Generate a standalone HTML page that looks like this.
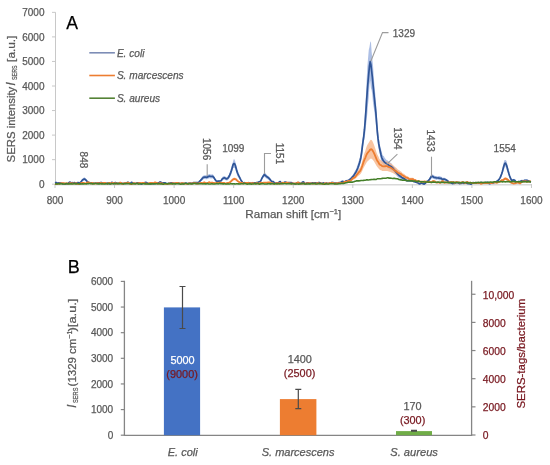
<!DOCTYPE html>
<html><head><meta charset="utf-8"><title>SERS figure</title>
<style>html,body{margin:0;padding:0;background:#fff;}svg{display:block;}text{font-family:"Liberation Sans", Arial, sans-serif;}</style></head><body>
<svg width="550" height="465" viewBox="0 0 550 465">
<rect width="550" height="465" fill="#fff"/>
<line x1="55.5" y1="12.3" x2="55.5" y2="184.2" stroke="#c8c8c8" stroke-width="1"/>
<line x1="52" y1="184.20" x2="55.5" y2="184.20" stroke="#c8c8c8" stroke-width="1"/>
<text x="44.50" y="187.80" font-size="10" fill="#595959" stroke="#595959" stroke-width="0.25" text-anchor="end">0</text>
<line x1="52" y1="159.65" x2="55.5" y2="159.65" stroke="#c8c8c8" stroke-width="1"/>
<text x="44.50" y="163.25" font-size="10" fill="#595959" stroke="#595959" stroke-width="0.25" text-anchor="end">1000</text>
<line x1="52" y1="135.10" x2="55.5" y2="135.10" stroke="#c8c8c8" stroke-width="1"/>
<text x="44.50" y="138.70" font-size="10" fill="#595959" stroke="#595959" stroke-width="0.25" text-anchor="end">2000</text>
<line x1="52" y1="110.55" x2="55.5" y2="110.55" stroke="#c8c8c8" stroke-width="1"/>
<text x="44.50" y="114.15" font-size="10" fill="#595959" stroke="#595959" stroke-width="0.25" text-anchor="end">3000</text>
<line x1="52" y1="86.00" x2="55.5" y2="86.00" stroke="#c8c8c8" stroke-width="1"/>
<text x="44.50" y="89.60" font-size="10" fill="#595959" stroke="#595959" stroke-width="0.25" text-anchor="end">4000</text>
<line x1="52" y1="61.45" x2="55.5" y2="61.45" stroke="#c8c8c8" stroke-width="1"/>
<text x="44.50" y="65.05" font-size="10" fill="#595959" stroke="#595959" stroke-width="0.25" text-anchor="end">5000</text>
<line x1="52" y1="36.90" x2="55.5" y2="36.90" stroke="#c8c8c8" stroke-width="1"/>
<text x="44.50" y="40.50" font-size="10" fill="#595959" stroke="#595959" stroke-width="0.25" text-anchor="end">6000</text>
<line x1="52" y1="12.35" x2="55.5" y2="12.35" stroke="#c8c8c8" stroke-width="1"/>
<text x="44.50" y="15.95" font-size="10" fill="#595959" stroke="#595959" stroke-width="0.25" text-anchor="end">7000</text>
<line x1="55" y1="184.80" x2="531.98" y2="184.80" stroke="#d9d9d9" stroke-width="1.6"/>
<line x1="55.00" y1="184.20" x2="55.00" y2="188.00" stroke="#c8c8c8" stroke-width="1"/>
<text x="55.00" y="204.10" font-size="10" fill="#595959" stroke="#595959" stroke-width="0.25" text-anchor="middle">800</text>
<line x1="114.56" y1="184.20" x2="114.56" y2="188.00" stroke="#c8c8c8" stroke-width="1"/>
<text x="114.56" y="204.10" font-size="10" fill="#595959" stroke="#595959" stroke-width="0.25" text-anchor="middle">900</text>
<line x1="174.12" y1="184.20" x2="174.12" y2="188.00" stroke="#c8c8c8" stroke-width="1"/>
<text x="174.12" y="204.10" font-size="10" fill="#595959" stroke="#595959" stroke-width="0.25" text-anchor="middle">1000</text>
<line x1="233.68" y1="184.20" x2="233.68" y2="188.00" stroke="#c8c8c8" stroke-width="1"/>
<text x="233.68" y="204.10" font-size="10" fill="#595959" stroke="#595959" stroke-width="0.25" text-anchor="middle">1100</text>
<line x1="293.24" y1="184.20" x2="293.24" y2="188.00" stroke="#c8c8c8" stroke-width="1"/>
<text x="293.24" y="204.10" font-size="10" fill="#595959" stroke="#595959" stroke-width="0.25" text-anchor="middle">1200</text>
<line x1="352.80" y1="184.20" x2="352.80" y2="188.00" stroke="#c8c8c8" stroke-width="1"/>
<text x="352.80" y="204.10" font-size="10" fill="#595959" stroke="#595959" stroke-width="0.25" text-anchor="middle">1300</text>
<line x1="412.36" y1="184.20" x2="412.36" y2="188.00" stroke="#c8c8c8" stroke-width="1"/>
<text x="412.36" y="204.10" font-size="10" fill="#595959" stroke="#595959" stroke-width="0.25" text-anchor="middle">1400</text>
<line x1="471.92" y1="184.20" x2="471.92" y2="188.00" stroke="#c8c8c8" stroke-width="1"/>
<text x="471.92" y="204.10" font-size="10" fill="#595959" stroke="#595959" stroke-width="0.25" text-anchor="middle">1500</text>
<line x1="531.48" y1="184.20" x2="531.48" y2="188.00" stroke="#c8c8c8" stroke-width="1"/>
<text x="531.48" y="204.10" font-size="10" fill="#595959" stroke="#595959" stroke-width="0.25" text-anchor="middle">1600</text>
<text transform="translate(14.50 162.40) rotate(-90)" font-size="11.3" fill="#595959" stroke="#595959" stroke-width="0.25" textLength="75.70" lengthAdjust="spacingAndGlyphs">SERS intensity</text>
<text transform="translate(14.50 85.80) rotate(-90)" font-size="13.2" fill="#595959" stroke="#595959" stroke-width="0.25" font-style="italic">I</text>
<text transform="translate(17.40 80.00) rotate(-90)" font-size="7.4" fill="#595959" stroke="#595959" stroke-width="0.25" textLength="14.60" lengthAdjust="spacingAndGlyphs">SERS</text>
<text transform="translate(14.50 61.90) rotate(-90)" font-size="11.3" fill="#595959" stroke="#595959" stroke-width="0.25" textLength="26.30" lengthAdjust="spacingAndGlyphs">[a.u.]</text>
<text x="245.3" y="217.7" font-size="11.4" fill="#595959" stroke="#595959" stroke-width="0.25" textLength="96" lengthAdjust="spacingAndGlyphs">Raman shift [cm<tspan font-size="7.4" dy="-4.2">−1</tspan><tspan dy="4.2">]</tspan></text>
<text x="66.20" y="28.60" font-size="17.6" fill="#000" stroke="#000" stroke-width="0.25">A</text>
<path d="M55.00,182.52 L55.71,182.17 L56.43,182.12 L57.14,182.44 L57.86,182.66 L58.57,182.54 L59.29,182.33 L60.00,182.57 L60.72,182.83 L61.43,182.93 L62.15,183.25 L62.86,183.55 L63.58,183.47 L64.29,183.41 L65.01,183.69 L65.72,183.76 L66.44,183.46 L67.15,183.30 L67.86,183.23 L68.58,182.57 L69.29,181.70 L70.01,181.59 L70.72,182.04 L71.44,182.28 L72.15,182.27 L72.87,182.32 L73.58,182.32 L74.30,182.19 L75.01,182.47 L75.73,182.90 L76.44,182.82 L77.16,182.33 L77.87,182.09 L78.59,182.23 L79.30,182.32 L80.02,182.08 L80.73,181.47 L81.44,180.30 L82.16,179.26 L82.87,178.47 L83.59,177.68 L84.30,177.36 L85.02,177.77 L85.73,178.69 L86.45,179.61 L87.16,180.60 L87.88,181.27 L88.59,181.75 L89.31,182.45 L90.02,182.83 L90.74,182.61 L91.45,182.45 L92.17,182.63 L92.88,182.79 L93.59,182.91 L94.31,183.01 L95.02,182.99 L95.74,182.81 L96.45,182.79 L97.17,182.81 L97.88,182.60 L98.60,182.43 L99.31,182.54 L100.03,182.53 L100.74,182.02 L101.46,181.94 L102.17,182.56 L102.89,182.87 L103.60,182.69 L104.32,182.82 L105.03,183.09 L105.75,183.03 L106.46,183.00 L107.17,182.83 L107.89,182.67 L108.60,183.00 L109.32,183.49 L110.03,183.55 L110.75,183.14 L111.46,182.23 L112.18,181.93 L112.89,182.74 L113.61,183.33 L114.32,182.92 L115.04,182.15 L115.75,182.23 L116.47,182.80 L117.18,183.04 L117.90,182.96 L118.61,183.07 L119.32,183.19 L120.04,183.04 L120.75,182.80 L121.47,182.84 L122.18,183.16 L122.90,183.44 L123.61,183.35 L124.33,182.88 L125.04,182.83 L125.76,183.15 L126.47,182.92 L127.19,182.20 L127.90,181.83 L128.62,182.13 L129.33,182.97 L130.05,183.34 L130.76,182.68 L131.48,181.83 L132.19,182.23 L132.90,183.02 L133.62,183.15 L134.33,183.13 L135.05,183.24 L135.76,183.20 L136.48,182.87 L137.19,182.50 L137.91,182.36 L138.62,182.50 L139.34,182.70 L140.05,183.12 L140.77,183.65 L141.48,183.83 L142.20,183.43 L142.91,182.97 L143.63,182.73 L144.34,182.39 L145.05,182.06 L145.77,181.93 L146.48,182.08 L147.20,182.57 L147.91,183.15 L148.63,183.41 L149.34,183.48 L150.06,183.53 L150.77,183.47 L151.49,183.22 L152.20,182.97 L152.92,183.19 L153.63,183.55 L154.35,183.51 L155.06,182.96 L155.78,182.34 L156.49,182.35 L157.20,182.87 L157.92,183.04 L158.63,182.43 L159.35,181.74 L160.06,181.34 L160.78,181.44 L161.49,182.12 L162.21,182.70 L162.92,182.64 L163.64,182.41 L164.35,182.40 L165.07,182.55 L165.78,182.90 L166.50,183.30 L167.21,183.46 L167.93,183.33 L168.64,183.17 L169.36,183.03 L170.07,182.71 L170.78,182.41 L171.50,182.34 L172.21,182.52 L172.93,182.74 L173.64,182.98 L174.36,183.14 L175.07,183.12 L175.79,182.93 L176.50,182.72 L177.22,182.79 L177.93,183.02 L178.65,183.05 L179.36,183.10 L180.08,183.26 L180.79,183.31 L181.51,183.17 L182.22,183.07 L182.93,183.16 L183.65,183.42 L184.36,183.36 L185.08,182.82 L185.79,182.65 L186.51,183.07 L187.22,183.38 L187.94,183.26 L188.65,182.97 L189.37,182.90 L190.08,182.90 L190.80,182.88 L191.51,183.06 L192.23,183.04 L192.94,182.48 L193.66,182.19 L194.37,182.27 L195.09,182.23 L195.80,182.19 L196.51,182.25 L197.23,182.15 L197.94,182.03 L198.66,181.75 L199.37,180.72 L200.09,179.71 L200.80,178.94 L201.52,177.68 L202.23,176.38 L202.95,175.95 L203.66,175.43 L204.38,175.25 L205.09,175.26 L205.81,175.19 L206.52,175.33 L207.24,175.12 L207.95,174.84 L208.66,174.29 L209.38,174.01 L210.09,174.16 L210.81,174.47 L211.52,174.57 L212.24,174.25 L212.95,174.44 L213.67,175.49 L214.38,176.85 L215.10,178.28 L215.81,179.48 L216.53,180.23 L217.24,180.40 L217.96,180.40 L218.67,180.35 L219.39,180.17 L220.10,180.11 L220.82,179.97 L221.53,178.73 L222.24,177.17 L222.96,176.44 L223.67,176.20 L224.39,176.04 L225.10,176.30 L225.82,177.04 L226.53,177.27 L227.25,176.95 L227.96,176.33 L228.68,174.99 L229.39,173.22 L230.11,171.45 L230.82,169.10 L231.54,166.59 L232.25,164.33 L232.97,161.68 L233.68,159.20 L234.39,159.23 L235.11,161.12 L235.82,163.49 L236.54,166.23 L237.25,168.80 L237.97,171.09 L238.68,173.18 L239.40,174.91 L240.11,176.53 L240.83,178.45 L241.54,179.98 L242.26,181.53 L242.97,182.66 L243.69,182.58 L244.40,182.22 L245.12,182.30 L245.83,182.47 L246.54,182.55 L247.26,182.48 L247.97,182.35 L248.69,182.32 L249.40,182.39 L250.12,182.60 L250.83,183.04 L251.55,183.14 L252.26,182.60 L252.98,182.26 L253.69,182.46 L254.41,182.60 L255.12,182.48 L255.84,182.37 L256.55,182.19 L257.27,182.10 L257.98,181.91 L258.70,181.39 L259.41,180.99 L260.12,180.81 L260.84,179.63 L261.55,177.57 L262.27,176.27 L262.98,174.75 L263.70,173.25 L264.41,172.48 L265.13,172.85 L265.84,173.74 L266.56,174.60 L267.27,175.28 L267.99,175.76 L268.70,176.19 L269.42,177.05 L270.13,178.01 L270.85,179.31 L271.56,180.41 L272.27,180.87 L272.99,180.82 L273.70,181.29 L274.42,182.44 L275.13,182.97 L275.85,182.71 L276.56,182.36 L277.28,182.40 L277.99,182.67 L278.71,182.25 L279.42,180.88 L280.14,180.72 L280.85,182.09 L281.57,183.24 L282.28,183.25 L283.00,182.82 L283.71,182.41 L284.43,181.83 L285.14,181.54 L285.85,181.73 L286.57,182.18 L287.28,182.45 L288.00,182.37 L288.71,182.08 L289.43,182.06 L290.14,182.26 L290.86,182.26 L291.57,182.23 L292.29,182.60 L293.00,183.07 L293.72,183.25 L294.43,183.50 L295.15,183.69 L295.86,183.30 L296.58,182.57 L297.29,182.34 L298.00,182.30 L298.72,182.16 L299.43,182.62 L300.15,183.36 L300.86,183.46 L301.58,182.73 L302.29,181.74 L303.01,181.22 L303.72,181.50 L304.44,182.68 L305.15,183.53 L305.87,183.38 L306.58,182.69 L307.30,182.32 L308.01,182.40 L308.73,182.78 L309.44,183.14 L310.16,183.13 L310.87,182.89 L311.58,182.64 L312.30,182.53 L313.01,182.52 L313.73,182.60 L314.44,182.55 L315.16,182.39 L315.87,182.36 L316.59,182.73 L317.30,182.85 L318.02,182.41 L318.73,182.08 L319.45,182.12 L320.16,182.32 L320.88,182.76 L321.59,183.13 L322.31,183.00 L323.02,182.61 L323.73,182.59 L324.45,183.02 L325.16,183.28 L325.88,182.94 L326.59,182.59 L327.31,182.96 L328.02,183.24 L328.74,183.04 L329.45,182.78 L330.17,182.78 L330.88,182.49 L331.60,182.05 L332.31,181.95 L333.03,182.19 L333.74,182.49 L334.46,182.72 L335.17,182.74 L335.88,182.75 L336.60,182.92 L337.31,182.94 L338.03,182.60 L338.74,182.22 L339.46,182.15 L340.17,182.11 L340.89,181.65 L341.60,180.97 L342.32,180.61 L343.03,180.67 L343.75,180.90 L344.46,180.98 L345.18,180.65 L345.89,180.13 L346.61,179.87 L347.32,179.85 L348.04,179.64 L348.75,179.15 L349.46,178.52 L350.18,177.75 L350.89,176.98 L351.61,176.22 L352.32,175.43 L353.04,174.43 L353.75,173.16 L354.47,171.73 L355.18,170.55 L355.90,169.62 L356.61,167.56 L357.33,165.20 L358.04,163.40 L358.76,161.08 L359.47,159.01 L360.19,156.28 L360.90,152.07 L361.61,145.89 L362.33,139.34 L363.04,136.42 L363.76,130.75 L364.47,119.73 L365.19,107.93 L365.90,96.00 L366.62,80.82 L367.33,67.05 L368.05,58.31 L368.76,49.99 L369.48,47.04 L370.19,42.48 L370.91,41.15 L371.62,51.75 L372.34,59.13 L373.05,65.88 L373.77,76.90 L374.48,85.79 L375.19,93.07 L375.91,100.98 L376.62,112.03 L377.34,122.29 L378.05,131.55 L378.77,138.36 L379.48,142.57 L380.20,146.31 L380.91,148.62 L381.63,151.75 L382.34,154.18 L383.06,155.63 L383.77,156.02 L384.49,157.52 L385.20,158.56 L385.92,159.24 L386.63,160.32 L387.34,160.22 L388.06,160.92 L388.77,161.52 L389.49,161.49 L390.20,162.46 L390.92,163.26 L391.63,163.58 L392.35,164.88 L393.06,165.67 L393.78,166.30 L394.49,166.85 L395.21,167.92 L395.92,168.84 L396.64,169.80 L397.35,170.80 L398.07,171.62 L398.78,172.75 L399.50,173.41 L400.21,173.92 L400.92,174.40 L401.64,175.02 L402.35,175.89 L403.07,176.54 L403.78,177.04 L404.50,177.49 L405.21,177.91 L405.93,178.57 L406.64,179.27 L407.36,179.62 L408.07,179.57 L408.79,179.57 L409.50,179.73 L410.22,179.85 L410.93,179.73 L411.65,179.77 L412.36,180.04 L413.07,180.38 L413.79,180.80 L414.50,181.06 L415.22,181.22 L415.93,181.55 L416.65,181.96 L417.36,182.17 L418.08,182.54 L418.79,183.23 L419.51,183.66 L420.22,183.51 L420.94,183.05 L421.65,182.68 L422.37,182.98 L423.08,183.55 L423.80,183.84 L424.51,183.65 L425.22,183.08 L425.94,182.05 L426.65,181.08 L427.37,180.41 L428.08,179.82 L428.80,178.91 L429.51,177.82 L430.23,176.55 L430.94,174.85 L431.66,173.98 L432.37,174.40 L433.09,174.79 L433.80,175.28 L434.52,175.76 L435.23,175.91 L435.95,175.95 L436.66,176.09 L437.38,176.41 L438.09,176.25 L438.80,175.91 L439.52,176.00 L440.23,176.41 L440.95,176.57 L441.66,177.08 L442.38,177.86 L443.09,177.86 L443.81,177.72 L444.52,177.66 L445.24,177.91 L445.95,178.57 L446.67,179.11 L447.38,179.60 L448.10,180.37 L448.81,181.32 L449.53,182.00 L450.24,182.18 L450.95,182.45 L451.67,183.02 L452.38,183.31 L453.10,183.25 L453.81,183.12 L454.53,183.04 L455.24,182.67 L455.96,182.10 L456.67,181.89 L457.39,182.04 L458.10,182.39 L458.82,182.97 L459.53,183.34 L460.25,183.27 L460.96,183.10 L461.68,182.93 L462.39,182.60 L463.11,182.61 L463.82,183.07 L464.53,182.99 L465.25,182.38 L465.96,182.33 L466.68,182.80 L467.39,183.18 L468.11,183.39 L468.82,183.42 L469.54,183.38 L470.25,183.70 L470.97,184.01 L471.68,183.46 L472.40,182.34 L473.11,182.08 L473.83,182.41 L474.54,182.61 L475.26,182.72 L475.97,182.50 L476.68,182.22 L477.40,182.52 L478.11,182.81 L478.83,182.88 L479.54,182.93 L480.26,182.46 L480.97,181.87 L481.69,182.03 L482.40,182.30 L483.12,182.33 L483.83,182.42 L484.55,182.33 L485.26,182.21 L485.98,182.28 L486.69,182.02 L487.41,181.65 L488.12,182.03 L488.84,183.06 L489.55,183.50 L490.26,183.25 L490.98,182.83 L491.69,182.79 L492.41,182.78 L493.12,182.66 L493.84,182.25 L494.55,181.60 L495.27,181.21 L495.98,181.08 L496.70,180.50 L497.41,179.76 L498.13,179.21 L498.84,178.37 L499.56,177.20 L500.27,175.67 L500.99,173.48 L501.70,171.39 L502.41,168.60 L503.13,165.06 L503.84,162.00 L504.56,159.96 L505.27,160.02 L505.99,160.27 L506.70,161.47 L507.42,164.65 L508.13,168.14 L508.85,171.09 L509.56,173.60 L510.28,175.91 L510.99,177.93 L511.71,179.08 L512.42,179.22 L513.14,178.89 L513.85,178.69 L514.56,179.04 L515.28,179.97 L515.99,181.22 L516.71,181.95 L517.42,181.44 L518.14,180.79 L518.85,180.82 L519.57,181.00 L520.28,180.77 L521.00,180.13 L521.71,179.59 L522.43,179.74 L523.14,179.97 L523.86,179.62 L524.57,179.36 L525.29,179.39 L526.00,179.41 L526.72,179.29 L527.43,179.36 L528.14,179.72 L528.86,180.11 L529.57,180.58 L530.29,180.93 L531.00,181.26 L531.00,182.67 L530.29,182.47 L529.57,182.16 L528.86,182.12 L528.14,181.88 L527.43,181.70 L526.72,181.66 L526.00,181.53 L525.29,181.41 L524.57,181.48 L523.86,181.77 L523.14,181.89 L522.43,181.87 L521.71,181.94 L521.00,182.14 L520.28,182.20 L519.57,182.27 L518.85,182.41 L518.14,182.48 L517.42,182.77 L516.71,183.03 L515.99,182.58 L515.28,181.84 L514.56,181.44 L513.85,181.19 L513.14,181.18 L512.42,181.47 L511.71,181.35 L510.99,180.54 L510.28,179.52 L509.56,177.86 L508.85,175.91 L508.13,173.78 L507.42,171.75 L506.70,170.03 L505.99,167.64 L505.27,166.34 L504.56,167.87 L503.84,169.90 L503.13,172.20 L502.41,174.19 L501.70,176.06 L500.99,177.89 L500.27,179.01 L499.56,180.05 L498.84,180.98 L498.13,181.49 L497.41,181.89 L496.70,182.34 L495.98,182.58 L495.27,182.65 L494.55,182.77 L493.84,183.11 L493.12,183.36 L492.41,183.43 L491.69,183.44 L490.98,183.45 L490.26,183.74 L489.55,183.99 L488.84,183.57 L488.12,183.04 L487.41,182.86 L486.69,182.95 L485.98,183.08 L485.26,183.10 L484.55,183.17 L483.83,183.25 L483.12,183.21 L482.40,183.14 L481.69,183.02 L480.97,182.97 L480.26,183.25 L479.54,183.49 L478.83,183.47 L478.11,183.43 L477.40,183.30 L476.68,183.16 L475.97,183.26 L475.26,183.38 L474.54,183.35 L473.83,183.25 L473.11,183.03 L472.40,183.16 L471.68,183.95 L470.97,184.51 L470.25,184.19 L469.54,183.87 L468.82,183.91 L468.11,183.88 L467.39,183.67 L466.68,183.43 L465.96,183.17 L465.25,183.22 L464.53,183.53 L463.82,183.57 L463.11,183.30 L462.39,183.32 L461.68,183.50 L460.96,183.60 L460.25,183.76 L459.53,183.84 L458.82,183.52 L458.10,183.23 L457.39,183.07 L456.67,183.03 L455.96,183.09 L455.24,183.36 L454.53,183.56 L453.81,183.61 L453.10,183.74 L452.38,183.80 L451.67,183.55 L450.95,183.25 L450.24,183.13 L449.53,183.04 L448.81,182.67 L448.10,182.17 L447.38,181.73 L446.67,181.32 L445.95,181.12 L445.24,181.02 L444.52,180.68 L443.81,180.62 L443.09,180.94 L442.38,180.99 L441.66,180.50 L440.95,180.04 L440.23,180.23 L439.52,180.41 L438.80,180.17 L438.09,179.61 L437.38,179.56 L436.66,179.90 L435.95,179.63 L435.23,179.25 L434.52,179.13 L433.80,179.08 L433.09,178.68 L432.37,178.16 L431.66,178.35 L430.94,179.12 L430.23,180.10 L429.51,180.86 L428.80,181.40 L428.08,181.84 L427.37,182.23 L426.65,182.56 L425.94,183.04 L425.22,183.58 L424.51,184.14 L423.80,184.33 L423.08,184.04 L422.37,183.53 L421.65,183.34 L420.94,183.56 L420.22,184.00 L419.51,184.15 L418.79,183.72 L418.08,183.32 L417.36,183.13 L416.65,182.95 L415.93,182.72 L415.22,182.49 L414.50,182.45 L413.79,182.32 L413.07,182.11 L412.36,181.86 L411.65,181.78 L410.93,181.73 L410.22,181.77 L409.50,181.82 L408.79,181.65 L408.07,181.65 L407.36,181.73 L406.64,181.61 L405.93,181.32 L405.21,180.90 L404.50,180.21 L403.78,179.79 L403.07,179.82 L402.35,179.90 L401.64,179.66 L400.92,179.09 L400.21,178.63 L399.50,178.17 L398.78,177.65 L398.07,177.32 L397.35,176.43 L396.64,175.66 L395.92,174.87 L395.21,174.07 L394.49,173.35 L393.78,172.21 L393.06,171.12 L392.35,170.39 L391.63,170.47 L390.92,169.75 L390.20,169.63 L389.49,169.79 L388.77,168.82 L388.06,168.35 L387.34,168.09 L386.63,167.00 L385.92,167.14 L385.20,166.93 L384.49,166.68 L383.77,166.52 L383.06,164.93 L382.34,163.84 L381.63,162.65 L380.91,159.93 L380.20,155.77 L379.48,153.07 L378.77,149.43 L378.05,145.38 L377.34,141.04 L376.62,132.98 L375.91,125.31 L375.19,118.62 L374.48,112.67 L373.77,107.81 L373.05,103.44 L372.34,95.31 L371.62,90.03 L370.91,88.07 L370.19,80.76 L369.48,84.53 L368.76,97.25 L368.05,104.37 L367.33,113.54 L366.62,120.06 L365.90,126.82 L365.19,134.01 L364.47,139.18 L363.76,141.40 L363.04,146.58 L362.33,154.56 L361.61,159.30 L360.90,162.34 L360.19,164.35 L359.47,166.90 L358.76,169.36 L358.04,170.99 L357.33,172.76 L356.61,173.65 L355.90,174.52 L355.18,176.02 L354.47,177.04 L353.75,177.82 L353.04,178.46 L352.32,178.98 L351.61,179.71 L350.89,180.47 L350.18,180.84 L349.46,181.03 L348.75,181.41 L348.04,181.73 L347.32,181.79 L346.61,181.78 L345.89,181.98 L345.18,182.37 L344.46,182.51 L343.75,182.40 L343.03,182.30 L342.32,182.28 L341.60,182.40 L340.89,182.77 L340.17,183.08 L339.46,183.13 L338.74,183.17 L338.03,183.34 L337.31,183.50 L336.60,183.49 L335.88,183.40 L335.17,183.39 L334.46,183.37 L333.74,183.27 L333.03,183.11 L332.31,182.98 L331.60,183.07 L330.88,183.31 L330.17,183.44 L329.45,183.43 L328.74,183.56 L328.02,183.73 L327.31,183.52 L326.59,183.34 L325.88,183.51 L325.16,183.77 L324.45,183.55 L323.73,183.31 L323.02,183.35 L322.31,183.54 L321.59,183.62 L320.88,183.42 L320.16,183.20 L319.45,183.09 L318.73,183.08 L318.02,183.23 L317.30,183.44 L316.59,183.40 L315.87,183.20 L315.16,183.17 L314.44,183.29 L313.73,183.33 L313.01,183.29 L312.30,183.28 L311.58,183.35 L310.87,183.48 L310.16,183.62 L309.44,183.63 L308.73,183.41 L308.01,183.22 L307.30,183.17 L306.58,183.37 L305.87,183.87 L305.15,184.02 L304.44,183.37 L303.72,182.74 L303.01,182.60 L302.29,182.87 L301.58,183.40 L300.86,183.95 L300.15,183.85 L299.43,183.35 L298.72,183.10 L298.00,183.14 L297.29,183.14 L296.58,183.29 L295.86,183.79 L295.15,184.18 L294.43,184.00 L293.72,183.74 L293.00,183.57 L292.29,183.33 L291.57,183.15 L290.86,183.17 L290.14,183.18 L289.43,183.02 L288.71,182.99 L288.00,183.23 L287.28,183.28 L286.57,183.12 L285.85,182.90 L285.14,182.80 L284.43,182.94 L283.71,183.17 L283.00,183.43 L282.28,183.75 L281.57,183.73 L280.85,183.01 L280.14,182.38 L279.42,182.57 L278.71,183.12 L277.99,183.31 L277.28,183.19 L276.56,183.21 L275.85,183.38 L275.13,183.52 L274.42,183.26 L273.70,182.64 L272.99,182.32 L272.27,182.37 L271.56,182.16 L270.85,181.76 L270.13,181.16 L269.42,180.40 L268.70,179.90 L267.99,179.40 L267.27,178.74 L266.56,178.39 L265.84,178.13 L265.13,177.37 L264.41,176.89 L263.70,177.47 L262.98,178.02 L262.27,178.98 L261.55,180.46 L260.84,181.83 L260.12,182.45 L259.41,182.46 L258.70,182.57 L257.98,182.86 L257.27,183.04 L256.55,183.12 L255.84,183.21 L255.12,183.26 L254.41,183.31 L253.69,183.24 L252.98,183.16 L252.26,183.34 L251.55,183.63 L250.83,183.56 L250.12,183.35 L249.40,183.22 L248.69,183.12 L247.97,183.16 L247.26,183.25 L246.54,183.28 L245.83,183.24 L245.12,183.17 L244.40,183.15 L243.69,183.32 L242.97,183.35 L242.26,182.83 L241.54,182.03 L240.83,181.18 L240.11,180.35 L239.40,179.09 L238.68,177.88 L237.97,176.89 L237.25,175.59 L236.54,173.52 L235.82,170.92 L235.11,168.49 L234.39,167.76 L233.68,168.00 L232.97,168.31 L232.25,170.98 L231.54,173.80 L230.82,175.53 L230.11,176.95 L229.39,178.29 L228.68,179.20 L227.96,179.89 L227.25,180.49 L226.53,180.45 L225.82,180.17 L225.10,179.92 L224.39,179.59 L223.67,179.83 L222.96,180.34 L222.24,180.72 L221.53,181.30 L220.82,181.83 L220.10,181.96 L219.39,181.97 L218.67,181.94 L217.96,181.93 L217.24,182.11 L216.53,182.12 L215.81,181.59 L215.10,180.66 L214.38,179.85 L213.67,179.23 L212.95,178.41 L212.24,178.35 L211.52,178.39 L210.81,178.45 L210.09,178.36 L209.38,178.36 L208.66,178.55 L207.95,178.72 L207.24,179.23 L206.52,179.29 L205.81,179.21 L205.09,178.99 L204.38,178.91 L203.66,179.24 L202.95,179.61 L202.23,180.43 L201.52,181.08 L200.80,181.52 L200.09,181.99 L199.37,182.55 L198.66,182.91 L197.94,183.05 L197.23,183.16 L196.51,183.16 L195.80,183.09 L195.09,183.08 L194.37,183.09 L193.66,183.12 L192.94,183.29 L192.23,183.56 L191.51,183.57 L190.80,183.48 L190.08,183.48 L189.37,183.48 L188.65,183.52 L187.94,183.76 L187.22,183.87 L186.51,183.57 L185.79,183.35 L185.08,183.45 L184.36,183.85 L183.65,183.91 L182.93,183.66 L182.22,183.57 L181.51,183.66 L180.79,183.80 L180.08,183.75 L179.36,183.59 L178.65,183.56 L177.93,183.55 L177.22,183.42 L176.50,183.39 L175.79,183.50 L175.07,183.61 L174.36,183.63 L173.64,183.53 L172.93,183.42 L172.21,183.31 L171.50,183.21 L170.78,183.20 L170.07,183.38 L169.36,183.55 L168.64,183.66 L167.93,183.82 L167.21,183.95 L166.50,183.79 L165.78,183.47 L165.07,183.27 L164.35,183.24 L163.64,183.22 L162.92,183.33 L162.21,183.38 L161.49,183.09 L160.78,182.79 L160.06,182.77 L159.35,182.91 L158.63,183.24 L157.92,183.56 L157.20,183.48 L156.49,183.22 L155.78,183.24 L155.06,183.53 L154.35,184.00 L153.63,184.04 L152.92,183.68 L152.20,183.53 L151.49,183.71 L150.77,183.97 L150.06,184.02 L149.34,183.97 L148.63,183.90 L147.91,183.64 L147.20,183.32 L146.48,183.08 L145.77,182.99 L145.05,183.05 L144.34,183.26 L143.63,183.41 L142.91,183.51 L142.20,183.92 L141.48,184.32 L140.77,184.14 L140.05,183.61 L139.34,183.37 L138.62,183.26 L137.91,183.22 L137.19,183.29 L136.48,183.47 L135.76,183.69 L135.05,183.73 L134.33,183.62 L133.62,183.64 L132.90,183.54 L132.19,183.10 L131.48,182.94 L130.76,183.37 L130.05,183.84 L129.33,183.53 L128.62,183.10 L127.90,182.87 L127.19,183.07 L126.47,183.49 L125.76,183.64 L125.04,183.44 L124.33,183.47 L123.61,183.84 L122.90,183.93 L122.18,183.65 L121.47,183.44 L120.75,183.43 L120.04,183.56 L119.32,183.68 L118.61,183.57 L117.90,183.52 L117.18,183.56 L116.47,183.41 L115.75,183.12 L115.04,183.07 L114.32,183.48 L113.61,183.82 L112.89,183.37 L112.18,182.89 L111.46,183.09 L110.75,183.63 L110.03,184.04 L109.32,183.98 L108.60,183.54 L107.89,183.34 L107.17,183.45 L106.46,183.53 L105.75,183.55 L105.03,183.58 L104.32,183.43 L103.60,183.35 L102.89,183.47 L102.17,183.31 L101.46,183.02 L100.74,183.04 L100.03,183.27 L99.31,183.30 L98.60,183.23 L97.88,183.30 L97.17,183.44 L96.45,183.42 L95.74,183.44 L95.02,183.53 L94.31,183.54 L93.59,183.49 L92.88,183.42 L92.17,183.32 L91.45,183.24 L90.74,183.34 L90.02,183.45 L89.31,183.23 L88.59,182.85 L87.88,182.57 L87.16,182.27 L86.45,181.70 L85.73,181.06 L85.02,180.69 L84.30,180.52 L83.59,180.73 L82.87,180.96 L82.16,181.49 L81.44,182.29 L80.73,182.79 L80.02,183.03 L79.30,183.17 L78.59,183.16 L77.87,183.06 L77.16,183.19 L76.44,183.46 L75.73,183.49 L75.01,183.27 L74.30,183.14 L73.58,183.20 L72.87,183.16 L72.15,183.12 L71.44,183.18 L70.72,183.10 L70.01,182.82 L69.29,182.90 L68.58,183.33 L67.86,183.72 L67.15,183.80 L66.44,183.95 L65.72,184.26 L65.01,184.18 L64.29,183.90 L63.58,183.96 L62.86,184.05 L62.15,183.74 L61.43,183.50 L60.72,183.44 L60.00,183.29 L59.29,183.22 L58.57,183.32 L57.86,183.36 L57.14,183.28 L56.43,183.13 L55.71,183.10 L55.00,183.29 Z" fill="#9fb4e0" fill-opacity="0.85" stroke="none"/>
<path d="M55.00,183.56 L55.71,183.89 L56.43,183.88 L57.14,183.67 L57.86,183.61 L58.57,183.68 L59.29,183.54 L60.00,183.25 L60.72,183.12 L61.43,183.05 L62.15,182.87 L62.86,182.80 L63.58,183.03 L64.29,183.27 L65.01,183.27 L65.72,183.11 L66.44,183.07 L67.15,183.32 L67.86,183.52 L68.58,183.56 L69.29,183.34 L70.01,182.91 L70.72,182.76 L71.44,183.04 L72.15,183.26 L72.87,183.18 L73.58,183.13 L74.30,183.34 L75.01,183.49 L75.73,183.28 L76.44,183.01 L77.16,183.42 L77.87,183.89 L78.59,183.94 L79.30,183.76 L80.02,183.52 L80.73,183.04 L81.44,182.61 L82.16,182.60 L82.87,182.55 L83.59,182.49 L84.30,182.96 L85.02,183.47 L85.73,183.34 L86.45,182.64 L87.16,182.02 L87.88,181.88 L88.59,182.05 L89.31,182.38 L90.02,182.84 L90.74,183.23 L91.45,183.08 L92.17,182.63 L92.88,182.84 L93.59,183.46 L94.31,183.58 L95.02,183.25 L95.74,183.07 L96.45,183.12 L97.17,183.04 L97.88,182.91 L98.60,182.97 L99.31,183.13 L100.03,182.93 L100.74,182.71 L101.46,182.78 L102.17,182.94 L102.89,182.87 L103.60,182.63 L104.32,182.53 L105.03,182.71 L105.75,182.99 L106.46,183.36 L107.17,183.58 L107.89,183.42 L108.60,182.94 L109.32,182.55 L110.03,182.68 L110.75,183.10 L111.46,183.14 L112.18,182.74 L112.89,182.49 L113.61,182.78 L114.32,183.14 L115.04,183.18 L115.75,183.07 L116.47,183.21 L117.18,183.38 L117.90,183.36 L118.61,183.18 L119.32,182.75 L120.04,182.25 L120.75,182.28 L121.47,183.03 L122.18,183.61 L122.90,183.61 L123.61,183.25 L124.33,182.91 L125.04,182.87 L125.76,182.88 L126.47,182.77 L127.19,182.54 L127.90,182.38 L128.62,182.55 L129.33,183.10 L130.05,183.65 L130.76,183.92 L131.48,183.88 L132.19,183.68 L132.90,183.34 L133.62,182.93 L134.33,182.97 L135.05,183.32 L135.76,183.41 L136.48,183.33 L137.19,183.25 L137.91,183.11 L138.62,182.93 L139.34,182.80 L140.05,182.76 L140.77,182.84 L141.48,182.79 L142.20,182.57 L142.91,182.52 L143.63,182.70 L144.34,182.93 L145.05,183.20 L145.77,183.43 L146.48,183.49 L147.20,183.43 L147.91,183.40 L148.63,183.28 L149.34,182.97 L150.06,182.73 L150.77,182.67 L151.49,182.63 L152.20,182.74 L152.92,183.00 L153.63,182.87 L154.35,182.29 L155.06,181.99 L155.78,182.27 L156.49,182.57 L157.20,182.82 L157.92,183.28 L158.63,183.50 L159.35,183.28 L160.06,182.90 L160.78,182.97 L161.49,183.24 L162.21,183.33 L162.92,183.40 L163.64,183.63 L164.35,183.78 L165.07,183.76 L165.78,183.78 L166.50,183.84 L167.21,183.77 L167.93,183.61 L168.64,183.44 L169.36,183.30 L170.07,183.34 L170.78,183.51 L171.50,183.52 L172.21,183.26 L172.93,183.00 L173.64,183.05 L174.36,183.09 L175.07,183.00 L175.79,182.80 L176.50,182.64 L177.22,182.71 L177.93,182.89 L178.65,182.95 L179.36,183.15 L180.08,183.38 L180.79,183.26 L181.51,182.97 L182.22,182.95 L182.93,183.07 L183.65,183.20 L184.36,183.33 L185.08,183.45 L185.79,183.58 L186.51,183.68 L187.22,183.69 L187.94,183.52 L188.65,183.21 L189.37,183.09 L190.08,183.20 L190.80,183.17 L191.51,183.15 L192.23,183.30 L192.94,183.22 L193.66,182.77 L194.37,182.48 L195.09,182.76 L195.80,183.19 L196.51,183.36 L197.23,183.37 L197.94,183.38 L198.66,183.21 L199.37,182.93 L200.09,182.86 L200.80,182.66 L201.52,182.51 L202.23,182.78 L202.95,182.84 L203.66,182.15 L204.38,181.84 L205.09,182.38 L205.81,182.93 L206.52,183.04 L207.24,182.99 L207.95,182.61 L208.66,181.94 L209.38,181.74 L210.09,182.12 L210.81,182.41 L211.52,182.27 L212.24,182.25 L212.95,182.42 L213.67,182.54 L214.38,182.74 L215.10,182.97 L215.81,182.74 L216.53,182.37 L217.24,182.50 L217.96,182.70 L218.67,182.55 L219.39,182.32 L220.10,182.27 L220.82,182.31 L221.53,182.46 L222.24,182.55 L222.96,182.55 L223.67,182.51 L224.39,182.67 L225.10,183.22 L225.82,183.45 L226.53,182.99 L227.25,182.59 L227.96,182.78 L228.68,182.59 L229.39,181.97 L230.11,181.46 L230.82,180.87 L231.54,179.90 L232.25,179.05 L232.97,178.37 L233.68,177.70 L234.39,177.55 L235.11,177.71 L235.82,178.03 L236.54,178.84 L237.25,179.80 L237.97,180.45 L238.68,181.01 L239.40,181.66 L240.11,182.38 L240.83,182.66 L241.54,182.41 L242.26,182.50 L242.97,183.17 L243.69,183.55 L244.40,183.34 L245.12,182.79 L245.83,182.50 L246.54,182.68 L247.26,182.75 L247.97,182.52 L248.69,182.62 L249.40,183.04 L250.12,183.18 L250.83,182.98 L251.55,182.85 L252.26,182.82 L252.98,182.83 L253.69,183.00 L254.41,183.37 L255.12,183.54 L255.84,183.30 L256.55,182.93 L257.27,182.94 L257.98,183.29 L258.70,183.62 L259.41,183.48 L260.12,182.76 L260.84,182.31 L261.55,182.53 L262.27,182.74 L262.98,182.63 L263.70,182.40 L264.41,182.19 L265.13,182.15 L265.84,182.24 L266.56,182.31 L267.27,182.15 L267.99,181.96 L268.70,181.89 L269.42,181.86 L270.13,182.05 L270.85,182.54 L271.56,182.90 L272.27,182.99 L272.99,183.29 L273.70,183.69 L274.42,183.72 L275.13,183.42 L275.85,183.17 L276.56,182.95 L277.28,182.99 L277.99,183.37 L278.71,183.35 L279.42,182.88 L280.14,182.97 L280.85,183.41 L281.57,183.26 L282.28,182.58 L283.00,182.38 L283.71,182.72 L284.43,182.98 L285.14,182.84 L285.85,182.39 L286.57,182.10 L287.28,182.22 L288.00,182.55 L288.71,182.76 L289.43,182.99 L290.14,183.31 L290.86,183.44 L291.57,183.38 L292.29,183.23 L293.00,183.12 L293.72,183.10 L294.43,183.16 L295.15,183.21 L295.86,183.21 L296.58,183.06 L297.29,182.45 L298.00,182.01 L298.72,182.40 L299.43,183.05 L300.15,183.31 L300.86,183.35 L301.58,183.39 L302.29,183.38 L303.01,183.23 L303.72,183.11 L304.44,183.32 L305.15,183.41 L305.87,183.26 L306.58,183.19 L307.30,183.17 L308.01,183.02 L308.73,182.94 L309.44,182.98 L310.16,183.13 L310.87,183.22 L311.58,183.27 L312.30,183.42 L313.01,183.49 L313.73,183.30 L314.44,183.18 L315.16,183.36 L315.87,183.52 L316.59,183.30 L317.30,182.96 L318.02,182.94 L318.73,183.17 L319.45,183.39 L320.16,183.41 L320.88,183.23 L321.59,183.11 L322.31,183.42 L323.02,183.88 L323.73,183.92 L324.45,183.37 L325.16,182.97 L325.88,183.09 L326.59,183.19 L327.31,183.28 L328.02,183.54 L328.74,183.58 L329.45,183.02 L330.17,182.48 L330.88,182.69 L331.60,183.02 L332.31,182.65 L333.03,182.48 L333.74,183.11 L334.46,183.45 L335.17,183.34 L335.88,183.31 L336.60,183.32 L337.31,182.98 L338.03,182.77 L338.74,182.85 L339.46,182.93 L340.17,182.88 L340.89,182.69 L341.60,182.55 L342.32,182.69 L343.03,182.71 L343.75,182.07 L344.46,181.27 L345.18,181.10 L345.89,181.40 L346.61,181.28 L347.32,180.59 L348.04,180.09 L348.75,180.17 L349.46,180.11 L350.18,179.64 L350.89,179.17 L351.61,178.59 L352.32,177.54 L353.04,176.47 L353.75,175.99 L354.47,175.77 L355.18,175.10 L355.90,173.87 L356.61,172.58 L357.33,171.47 L358.04,170.30 L358.76,169.09 L359.47,168.16 L360.19,167.22 L360.90,165.62 L361.61,163.38 L362.33,160.87 L363.04,158.08 L363.76,155.28 L364.47,153.09 L365.19,151.13 L365.90,148.80 L366.62,146.51 L367.33,144.95 L368.05,143.81 L368.76,142.74 L369.48,141.59 L370.19,140.37 L370.91,139.74 L371.62,140.07 L372.34,141.07 L373.05,142.49 L373.77,144.19 L374.48,146.13 L375.19,148.26 L375.91,150.45 L376.62,152.80 L377.34,154.62 L378.05,155.83 L378.77,157.31 L379.48,158.90 L380.20,159.75 L380.91,159.99 L381.63,160.66 L382.34,161.42 L383.06,161.58 L383.77,161.55 L384.49,161.56 L385.20,161.46 L385.92,161.41 L386.63,161.31 L387.34,161.41 L388.06,161.96 L388.77,162.45 L389.49,162.60 L390.20,162.92 L390.92,163.48 L391.63,164.04 L392.35,164.61 L393.06,165.16 L393.78,165.84 L394.49,166.72 L395.21,167.34 L395.92,167.61 L396.64,168.19 L397.35,169.12 L398.07,169.76 L398.78,170.04 L399.50,170.44 L400.21,170.93 L400.92,171.42 L401.64,172.10 L402.35,172.88 L403.07,173.43 L403.78,173.82 L404.50,174.37 L405.21,175.07 L405.93,175.61 L406.64,175.88 L407.36,176.10 L408.07,176.51 L408.79,177.23 L409.50,177.78 L410.22,177.84 L410.93,177.83 L411.65,177.84 L412.36,177.69 L413.07,177.87 L413.79,178.57 L414.50,179.04 L415.22,179.11 L415.93,179.56 L416.65,180.38 L417.36,180.78 L418.08,180.45 L418.79,180.28 L419.51,180.64 L420.22,180.92 L420.94,180.87 L421.65,180.90 L422.37,181.13 L423.08,181.14 L423.80,180.97 L424.51,180.83 L425.22,180.87 L425.94,181.06 L426.65,181.35 L427.37,181.54 L428.08,181.55 L428.80,181.33 L429.51,181.09 L430.23,181.41 L430.94,181.94 L431.66,181.70 L432.37,180.86 L433.09,180.34 L433.80,180.28 L434.52,180.52 L435.23,181.01 L435.95,181.67 L436.66,182.24 L437.38,182.24 L438.09,181.86 L438.80,181.98 L439.52,182.55 L440.23,182.57 L440.95,181.88 L441.66,180.95 L442.38,180.26 L443.09,180.44 L443.81,181.60 L444.52,182.59 L445.24,182.37 L445.95,181.82 L446.67,181.98 L447.38,182.37 L448.10,182.32 L448.81,182.10 L449.53,181.98 L450.24,181.77 L450.95,181.58 L451.67,181.59 L452.38,181.52 L453.10,181.43 L453.81,181.90 L454.53,182.50 L455.24,182.27 L455.96,181.63 L456.67,181.48 L457.39,181.73 L458.10,181.94 L458.82,182.09 L459.53,182.21 L460.25,182.20 L460.96,182.09 L461.68,181.94 L462.39,181.74 L463.11,181.74 L463.82,182.06 L464.53,182.45 L465.25,182.68 L465.96,182.30 L466.68,181.55 L467.39,181.40 L468.11,181.92 L468.82,182.23 L469.54,182.29 L470.25,182.38 L470.97,182.45 L471.68,182.57 L472.40,182.70 L473.11,182.72 L473.83,182.83 L474.54,182.89 L475.26,182.51 L475.97,182.36 L476.68,182.73 L477.40,182.81 L478.11,182.50 L478.83,182.40 L479.54,182.50 L480.26,183.02 L480.97,183.62 L481.69,183.56 L482.40,182.86 L483.12,182.42 L483.83,182.63 L484.55,182.84 L485.26,182.78 L485.98,182.74 L486.69,182.80 L487.41,182.86 L488.12,182.79 L488.84,182.63 L489.55,182.64 L490.26,182.85 L490.98,183.00 L491.69,182.97 L492.41,182.71 L493.12,182.19 L493.84,181.85 L494.55,181.97 L495.27,182.24 L495.98,182.40 L496.70,182.50 L497.41,182.39 L498.13,181.83 L498.84,181.29 L499.56,181.25 L500.27,180.94 L500.99,179.98 L501.70,179.16 L502.41,179.09 L503.13,179.01 L503.84,178.24 L504.56,177.43 L505.27,177.15 L505.99,177.34 L506.70,177.73 L507.42,178.17 L508.13,178.84 L508.85,179.73 L509.56,180.64 L510.28,181.52 L510.99,182.25 L511.71,182.68 L512.42,182.94 L513.14,183.26 L513.85,183.35 L514.56,183.32 L515.28,183.10 L515.99,182.69 L516.71,182.46 L517.42,182.24 L518.14,182.20 L518.85,182.62 L519.57,183.17 L520.28,183.07 L521.00,182.26 L521.71,181.31 L522.43,180.74 L523.14,180.80 L523.86,180.87 L524.57,180.58 L525.29,180.38 L526.00,180.72 L526.72,181.08 L527.43,181.01 L528.14,180.88 L528.86,180.87 L529.57,180.74 L530.29,180.65 L531.00,180.63 L531.00,182.05 L530.29,182.06 L529.57,182.11 L528.86,182.18 L528.14,182.19 L527.43,182.26 L526.72,182.30 L526.00,182.10 L525.29,181.90 L524.57,182.02 L523.86,182.18 L523.14,182.14 L522.43,182.11 L521.71,182.44 L521.00,182.98 L520.28,183.45 L519.57,183.50 L518.85,183.19 L518.14,182.95 L517.42,182.97 L516.71,183.09 L515.99,183.23 L515.28,183.46 L514.56,183.61 L513.85,183.65 L513.14,183.56 L512.42,183.37 L511.71,183.22 L510.99,182.98 L510.28,182.56 L509.56,182.05 L508.85,181.53 L508.13,181.02 L507.42,180.63 L506.70,180.38 L505.99,180.15 L505.27,180.04 L504.56,180.20 L503.84,180.67 L503.13,181.12 L502.41,181.16 L501.70,181.20 L500.99,181.67 L500.27,182.23 L499.56,182.40 L498.84,182.43 L498.13,182.74 L497.41,183.06 L496.70,183.12 L495.98,183.06 L495.27,182.97 L494.55,182.82 L493.84,182.75 L493.12,182.94 L492.41,183.24 L491.69,183.39 L490.98,183.41 L490.26,183.32 L489.55,183.20 L488.84,183.19 L488.12,183.29 L487.41,183.33 L486.69,183.30 L485.98,183.26 L485.26,183.28 L484.55,183.32 L483.83,183.19 L483.12,183.08 L482.40,183.33 L481.69,183.85 L480.97,183.92 L480.26,183.42 L479.54,183.12 L478.83,183.06 L478.11,183.12 L477.40,183.30 L476.68,183.25 L475.97,183.04 L475.26,183.13 L474.54,183.34 L473.83,183.31 L473.11,183.25 L472.40,183.24 L471.68,183.16 L470.97,183.09 L470.25,183.05 L469.54,183.00 L468.82,182.97 L468.11,182.79 L467.39,182.49 L466.68,182.58 L465.96,183.01 L465.25,183.22 L464.53,183.09 L463.82,182.87 L463.11,182.69 L462.39,182.68 L461.68,182.80 L460.96,182.89 L460.25,182.95 L459.53,182.95 L458.82,182.88 L458.10,182.80 L457.39,182.68 L456.67,182.54 L455.96,182.62 L455.24,182.99 L454.53,183.12 L453.81,182.78 L453.10,182.51 L452.38,182.56 L451.67,182.60 L450.95,182.59 L450.24,182.70 L449.53,182.82 L448.81,182.89 L448.10,183.02 L447.38,183.05 L446.67,182.82 L445.95,182.73 L445.24,183.05 L444.52,183.17 L443.81,182.60 L443.09,181.93 L442.38,181.83 L441.66,182.23 L440.95,182.77 L440.23,183.16 L439.52,183.15 L438.80,182.82 L438.09,182.75 L437.38,182.97 L436.66,182.97 L435.95,182.64 L435.23,182.26 L434.52,181.98 L433.80,181.84 L433.09,181.88 L432.37,182.18 L431.66,182.66 L430.94,182.80 L430.23,182.49 L429.51,182.31 L428.80,182.45 L428.08,182.57 L427.37,182.57 L426.65,182.46 L425.94,182.29 L425.22,182.18 L424.51,182.16 L423.80,182.24 L423.08,182.34 L422.37,182.34 L421.65,182.20 L420.94,182.18 L420.22,182.21 L419.51,182.05 L418.79,181.85 L418.08,181.94 L417.36,182.13 L416.65,181.90 L415.93,181.43 L415.22,181.17 L414.50,181.13 L413.79,180.86 L413.07,180.46 L412.36,180.36 L411.65,180.44 L410.93,180.44 L410.22,180.44 L409.50,180.41 L408.79,180.09 L408.07,179.68 L407.36,179.44 L406.64,179.32 L405.93,179.16 L405.21,178.85 L404.50,178.45 L403.78,178.13 L403.07,177.91 L402.35,177.59 L401.64,177.14 L400.92,176.75 L400.21,176.47 L399.50,176.19 L398.78,175.96 L398.07,175.80 L397.35,175.43 L396.64,174.89 L395.92,174.56 L395.21,174.41 L394.49,174.05 L393.78,173.55 L393.06,173.16 L392.35,172.84 L391.63,172.51 L390.92,172.19 L390.20,171.87 L389.49,171.68 L388.77,171.59 L388.06,171.31 L387.34,171.00 L386.63,170.94 L385.92,171.00 L385.20,171.03 L384.49,171.08 L383.77,171.08 L383.06,171.10 L382.34,171.00 L381.63,170.56 L380.91,170.18 L380.20,170.04 L379.48,169.56 L378.77,168.64 L378.05,167.79 L377.34,167.10 L376.62,166.05 L375.91,164.70 L375.19,163.44 L374.48,162.22 L373.77,161.10 L373.05,160.13 L372.34,159.31 L371.62,158.73 L370.91,158.54 L370.19,158.90 L369.48,159.61 L368.76,160.27 L368.05,160.88 L367.33,161.54 L366.62,162.44 L365.90,163.75 L365.19,165.09 L364.47,166.21 L363.76,167.47 L363.04,169.08 L362.33,170.69 L361.61,172.13 L360.90,173.42 L360.19,174.34 L359.47,174.88 L358.76,175.41 L358.04,176.11 L357.33,176.78 L356.61,177.42 L355.90,178.16 L355.18,178.87 L354.47,179.25 L353.75,179.38 L353.04,179.66 L352.32,180.27 L351.61,180.87 L350.89,181.21 L350.18,181.48 L349.46,181.75 L348.75,181.78 L348.04,181.74 L347.32,182.02 L346.61,182.42 L345.89,182.49 L345.18,182.32 L344.46,182.42 L343.75,182.87 L343.03,183.24 L342.32,183.23 L341.60,183.15 L340.89,183.23 L340.17,183.34 L339.46,183.37 L338.74,183.32 L338.03,183.28 L337.31,183.40 L336.60,183.61 L335.88,183.60 L335.17,183.63 L334.46,183.75 L333.74,183.47 L333.03,183.11 L332.31,183.21 L331.60,183.42 L330.88,183.23 L330.17,183.11 L329.45,183.42 L328.74,183.88 L328.02,183.83 L327.31,183.57 L326.59,183.52 L325.88,183.46 L325.16,183.39 L324.45,183.67 L323.73,184.21 L323.02,184.17 L322.31,183.72 L321.59,183.47 L320.88,183.54 L320.16,183.70 L319.45,183.69 L318.73,183.51 L318.02,183.37 L317.30,183.38 L316.59,183.60 L315.87,183.81 L315.16,183.66 L314.44,183.51 L313.73,183.60 L313.01,183.79 L312.30,183.71 L311.58,183.57 L310.87,183.53 L310.16,183.48 L309.44,183.40 L308.73,183.37 L308.01,183.42 L307.30,183.50 L306.58,183.52 L305.87,183.55 L305.15,183.71 L304.44,183.61 L303.72,183.47 L303.01,183.54 L302.29,183.67 L301.58,183.68 L300.86,183.64 L300.15,183.60 L299.43,183.44 L298.72,183.07 L298.00,182.84 L297.29,183.09 L296.58,183.44 L295.86,183.53 L295.15,183.53 L294.43,183.50 L293.72,183.47 L293.00,183.48 L292.29,183.54 L291.57,183.67 L290.86,183.73 L290.14,183.61 L289.43,183.40 L288.71,183.27 L288.00,183.15 L287.28,182.96 L286.57,182.89 L285.85,183.06 L285.14,183.32 L284.43,183.39 L283.71,183.25 L283.00,183.05 L282.28,183.17 L281.57,183.56 L280.85,183.71 L280.14,183.39 L279.42,183.34 L278.71,183.65 L277.99,183.66 L277.28,183.40 L276.56,183.38 L275.85,183.51 L275.13,183.72 L274.42,184.02 L273.70,183.99 L272.99,183.58 L272.27,183.40 L271.56,183.35 L270.85,183.15 L270.13,182.86 L269.42,182.75 L268.70,182.77 L267.99,182.81 L267.27,182.92 L266.56,183.01 L265.84,182.97 L265.13,182.92 L264.41,182.94 L263.70,183.06 L262.98,183.20 L262.27,183.26 L261.55,183.14 L260.84,183.01 L260.12,183.27 L259.41,183.78 L258.70,183.91 L257.98,183.59 L257.27,183.37 L256.55,183.37 L255.84,183.59 L255.12,183.83 L254.41,183.66 L253.69,183.41 L252.98,183.31 L252.26,183.31 L251.55,183.32 L250.83,183.39 L250.12,183.51 L249.40,183.43 L248.69,183.19 L247.97,183.14 L247.26,183.27 L246.54,183.23 L245.83,183.12 L245.12,183.29 L244.40,183.63 L243.69,183.85 L242.97,183.50 L242.26,183.12 L241.54,183.07 L240.83,183.21 L240.11,183.05 L239.40,182.64 L238.68,182.26 L237.97,181.95 L237.25,181.57 L236.54,181.02 L235.82,180.55 L235.11,180.36 L234.39,180.27 L233.68,180.36 L232.97,180.75 L232.25,181.14 L231.54,181.63 L230.82,182.19 L230.11,182.52 L229.39,182.81 L228.68,183.17 L227.96,183.28 L227.25,183.17 L226.53,183.40 L225.82,183.74 L225.10,183.53 L224.39,183.22 L223.67,183.13 L222.96,183.15 L222.24,183.15 L221.53,183.10 L220.82,183.01 L220.10,182.99 L219.39,183.02 L218.67,183.15 L217.96,183.24 L217.24,183.12 L216.53,183.05 L215.81,183.26 L215.10,183.39 L214.38,183.26 L213.67,183.14 L212.95,183.07 L212.24,182.98 L211.52,182.99 L210.81,183.07 L210.09,182.90 L209.38,182.68 L208.66,182.80 L207.95,183.19 L207.24,183.40 L206.52,183.43 L205.81,183.37 L205.09,183.05 L204.38,182.74 L203.66,182.92 L202.95,183.32 L202.23,183.28 L201.52,183.13 L200.80,183.21 L200.09,183.32 L199.37,183.37 L198.66,183.53 L197.94,183.68 L197.23,183.67 L196.51,183.65 L195.80,183.52 L195.09,183.27 L194.37,183.11 L193.66,183.28 L192.94,183.53 L192.23,183.59 L191.51,183.50 L190.80,183.51 L190.08,183.53 L189.37,183.46 L188.65,183.53 L187.94,183.81 L187.22,183.99 L186.51,183.97 L185.79,183.88 L185.08,183.74 L184.36,183.62 L183.65,183.53 L182.93,183.45 L182.22,183.38 L181.51,183.39 L180.79,183.56 L180.08,183.67 L179.36,183.50 L178.65,183.38 L177.93,183.35 L177.22,183.24 L176.50,183.20 L175.79,183.30 L175.07,183.41 L174.36,183.46 L173.64,183.44 L172.93,183.41 L172.21,183.56 L171.50,183.81 L170.78,183.80 L170.07,183.64 L169.36,183.59 L168.64,183.73 L167.93,183.90 L167.21,184.07 L166.50,184.13 L165.78,184.07 L165.07,184.05 L164.35,184.07 L163.64,183.92 L162.92,183.69 L162.21,183.62 L161.49,183.55 L160.78,183.39 L160.06,183.35 L159.35,183.57 L158.63,183.80 L157.92,183.57 L157.20,183.31 L156.49,183.16 L155.78,182.99 L155.06,182.83 L154.35,183.00 L153.63,183.33 L152.92,183.41 L152.20,183.26 L151.49,183.20 L150.77,183.22 L150.06,183.25 L149.34,183.39 L148.63,183.58 L147.91,183.69 L147.20,183.73 L146.48,183.78 L145.77,183.73 L145.05,183.53 L144.34,183.37 L143.63,183.24 L142.91,183.13 L142.20,183.16 L141.48,183.29 L140.77,183.31 L140.05,183.27 L139.34,183.29 L138.62,183.37 L137.91,183.47 L137.19,183.55 L136.48,183.63 L135.76,183.70 L135.05,183.61 L134.33,183.39 L133.62,183.37 L132.90,183.64 L132.19,183.97 L131.48,184.17 L130.76,184.22 L130.05,183.95 L129.33,183.46 L128.62,183.15 L127.90,183.05 L127.19,183.14 L126.47,183.28 L125.76,183.34 L125.04,183.33 L124.33,183.35 L123.61,183.55 L122.90,183.91 L122.18,183.90 L121.47,183.42 L120.75,182.99 L120.04,182.98 L119.32,183.27 L118.61,183.51 L117.90,183.65 L117.18,183.67 L116.47,183.53 L115.75,183.45 L115.04,183.51 L114.32,183.49 L113.61,183.28 L112.89,183.12 L112.18,183.26 L111.46,183.49 L110.75,183.47 L110.03,183.23 L109.32,183.15 L108.60,183.37 L107.89,183.72 L107.17,183.88 L106.46,183.65 L105.75,183.40 L105.03,183.24 L104.32,183.14 L103.60,183.20 L102.89,183.33 L102.17,183.38 L101.46,183.28 L100.74,183.24 L100.03,183.37 L99.31,183.48 L98.60,183.39 L97.88,183.36 L97.17,183.43 L96.45,183.48 L95.74,183.45 L95.02,183.55 L94.31,183.88 L93.59,183.76 L92.88,183.31 L92.17,183.19 L91.45,183.46 L90.74,183.54 L90.02,183.32 L89.31,183.05 L88.59,182.86 L87.88,182.77 L87.16,182.85 L86.45,183.20 L85.73,183.63 L85.02,183.77 L84.30,183.39 L83.59,183.11 L82.87,183.15 L82.16,183.18 L81.44,183.19 L80.73,183.43 L80.02,183.81 L79.30,184.05 L78.59,184.23 L77.87,184.18 L77.16,183.72 L76.44,183.42 L75.73,183.57 L75.01,183.78 L74.30,183.64 L73.58,183.48 L72.87,183.51 L72.15,183.56 L71.44,183.43 L70.72,183.27 L70.01,183.36 L69.29,183.64 L68.58,183.85 L67.86,183.82 L67.15,183.61 L66.44,183.45 L65.72,183.47 L65.01,183.57 L64.29,183.57 L63.58,183.43 L62.86,183.29 L62.15,183.33 L61.43,183.44 L60.72,183.48 L60.00,183.55 L59.29,183.84 L58.57,183.98 L57.86,183.91 L57.14,183.97 L56.43,184.18 L55.71,184.18 L55.00,183.85 Z" fill="#f6b58a" fill-opacity="0.8" stroke="none"/>
<path d="M55.00,182.91 L55.71,182.63 L56.43,182.63 L57.14,182.86 L57.86,183.01 L58.57,182.93 L59.29,182.78 L60.00,182.93 L60.72,183.14 L61.43,183.21 L62.15,183.49 L62.86,183.80 L63.58,183.71 L64.29,183.65 L65.01,183.94 L65.72,184.01 L66.44,183.71 L67.15,183.55 L67.86,183.48 L68.58,182.95 L69.29,182.30 L70.01,182.20 L70.72,182.57 L71.44,182.73 L72.15,182.69 L72.87,182.74 L73.58,182.76 L74.30,182.67 L75.01,182.87 L75.73,183.20 L76.44,183.14 L77.16,182.76 L77.87,182.58 L78.59,182.70 L79.30,182.75 L80.02,182.55 L80.73,182.13 L81.44,181.30 L82.16,180.38 L82.87,179.71 L83.59,179.21 L84.30,178.94 L85.02,179.23 L85.73,179.88 L86.45,180.65 L87.16,181.43 L87.88,181.92 L88.59,182.30 L89.31,182.84 L90.02,183.14 L90.74,182.97 L91.45,182.84 L92.17,182.98 L92.88,183.11 L93.59,183.20 L94.31,183.27 L95.02,183.26 L95.74,183.12 L96.45,183.10 L97.17,183.12 L97.88,182.95 L98.60,182.83 L99.31,182.92 L100.03,182.90 L100.74,182.53 L101.46,182.48 L102.17,182.94 L102.89,183.17 L103.60,183.02 L104.32,183.13 L105.03,183.34 L105.75,183.29 L106.46,183.26 L107.17,183.14 L107.89,183.01 L108.60,183.27 L109.32,183.74 L110.03,183.80 L110.75,183.38 L111.46,182.66 L112.18,182.41 L112.89,183.05 L113.61,183.58 L114.32,183.20 L115.04,182.61 L115.75,182.68 L116.47,183.11 L117.18,183.30 L117.90,183.24 L118.61,183.32 L119.32,183.43 L120.04,183.30 L120.75,183.11 L121.47,183.14 L122.18,183.40 L122.90,183.69 L123.61,183.60 L124.33,183.17 L125.04,183.14 L125.76,183.39 L126.47,183.21 L127.19,182.64 L127.90,182.35 L128.62,182.61 L129.33,183.25 L130.05,183.59 L130.76,183.03 L131.48,182.39 L132.19,182.66 L132.90,183.28 L133.62,183.40 L134.33,183.37 L135.05,183.49 L135.76,183.45 L136.48,183.17 L137.19,182.89 L137.91,182.79 L138.62,182.88 L139.34,183.04 L140.05,183.36 L140.77,183.90 L141.48,184.07 L142.20,183.67 L142.91,183.24 L143.63,183.07 L144.34,182.82 L145.05,182.55 L145.77,182.46 L146.48,182.58 L147.20,182.95 L147.91,183.40 L148.63,183.66 L149.34,183.73 L150.06,183.78 L150.77,183.72 L151.49,183.47 L152.20,183.25 L152.92,183.43 L153.63,183.80 L154.35,183.76 L155.06,183.24 L155.78,182.79 L156.49,182.79 L157.20,183.18 L157.92,183.30 L158.63,182.83 L159.35,182.32 L160.06,182.06 L160.78,182.12 L161.49,182.60 L162.21,183.04 L162.92,182.99 L163.64,182.82 L164.35,182.82 L165.07,182.91 L165.78,183.18 L166.50,183.55 L167.21,183.70 L167.93,183.58 L168.64,183.42 L169.36,183.29 L170.07,183.04 L170.78,182.80 L171.50,182.77 L172.21,182.91 L172.93,183.08 L173.64,183.26 L174.36,183.38 L175.07,183.36 L175.79,183.22 L176.50,183.05 L177.22,183.11 L177.93,183.28 L178.65,183.31 L179.36,183.35 L180.08,183.50 L180.79,183.56 L181.51,183.42 L182.22,183.32 L182.93,183.41 L183.65,183.67 L184.36,183.61 L185.08,183.14 L185.79,183.00 L186.51,183.32 L187.22,183.63 L187.94,183.51 L188.65,183.25 L189.37,183.19 L190.08,183.19 L190.80,183.18 L191.51,183.31 L192.23,183.30 L192.94,182.88 L193.66,182.65 L194.37,182.68 L195.09,182.65 L195.80,182.64 L196.51,182.70 L197.23,182.65 L197.94,182.54 L198.66,182.33 L199.37,181.63 L200.09,180.85 L200.80,180.23 L201.52,179.38 L202.23,178.40 L202.95,177.78 L203.66,177.33 L204.38,177.08 L205.09,177.13 L205.81,177.20 L206.52,177.31 L207.24,177.18 L207.95,176.78 L208.66,176.42 L209.38,176.18 L210.09,176.26 L210.81,176.46 L211.52,176.48 L212.24,176.30 L212.95,176.42 L213.67,177.36 L214.38,178.35 L215.10,179.47 L215.81,180.53 L216.53,181.17 L217.24,181.25 L217.96,181.16 L218.67,181.14 L219.39,181.07 L220.10,181.03 L220.82,180.90 L221.53,180.02 L222.24,178.95 L222.96,178.39 L223.67,178.02 L224.39,177.81 L225.10,178.11 L225.82,178.60 L226.53,178.86 L227.25,178.72 L227.96,178.11 L228.68,177.09 L229.39,175.75 L230.11,174.20 L230.82,172.31 L231.54,170.20 L232.25,167.66 L232.97,164.99 L233.68,163.60 L234.39,163.50 L235.11,164.81 L235.82,167.21 L236.54,169.88 L237.25,172.20 L237.97,173.99 L238.68,175.53 L239.40,177.00 L240.11,178.44 L240.83,179.81 L241.54,181.01 L242.26,182.18 L242.97,183.00 L243.69,182.95 L244.40,182.69 L245.12,182.74 L245.83,182.86 L246.54,182.91 L247.26,182.87 L247.97,182.75 L248.69,182.72 L249.40,182.80 L250.12,182.98 L250.83,183.30 L251.55,183.38 L252.26,182.97 L252.98,182.71 L253.69,182.85 L254.41,182.95 L255.12,182.87 L255.84,182.79 L256.55,182.66 L257.27,182.57 L257.98,182.38 L258.70,181.98 L259.41,181.73 L260.12,181.63 L260.84,180.73 L261.55,179.02 L262.27,177.62 L262.98,176.39 L263.70,175.36 L264.41,174.68 L265.13,175.11 L265.84,175.93 L266.56,176.49 L267.27,177.01 L267.99,177.58 L268.70,178.04 L269.42,178.72 L270.13,179.59 L270.85,180.53 L271.56,181.29 L272.27,181.62 L272.99,181.57 L273.70,181.96 L274.42,182.85 L275.13,183.25 L275.85,183.05 L276.56,182.78 L277.28,182.80 L277.99,182.99 L278.71,182.69 L279.42,181.73 L280.14,181.55 L280.85,182.55 L281.57,183.48 L282.28,183.50 L283.00,183.12 L283.71,182.79 L284.43,182.38 L285.14,182.17 L285.85,182.31 L286.57,182.65 L287.28,182.87 L288.00,182.80 L288.71,182.54 L289.43,182.54 L290.14,182.72 L290.86,182.71 L291.57,182.69 L292.29,182.96 L293.00,183.32 L293.72,183.49 L294.43,183.75 L295.15,183.94 L295.86,183.54 L296.58,182.93 L297.29,182.74 L298.00,182.72 L298.72,182.63 L299.43,182.98 L300.15,183.61 L300.86,183.70 L301.58,183.07 L302.29,182.31 L303.01,181.91 L303.72,182.12 L304.44,183.03 L305.15,183.77 L305.87,183.62 L306.58,183.03 L307.30,182.75 L308.01,182.81 L308.73,183.10 L309.44,183.38 L310.16,183.38 L310.87,183.19 L311.58,183.00 L312.30,182.90 L313.01,182.90 L313.73,182.97 L314.44,182.92 L315.16,182.78 L315.87,182.78 L316.59,183.06 L317.30,183.14 L318.02,182.82 L318.73,182.58 L319.45,182.60 L320.16,182.76 L320.88,183.09 L321.59,183.37 L322.31,183.27 L323.02,182.98 L323.73,182.95 L324.45,183.28 L325.16,183.52 L325.88,183.22 L326.59,182.97 L327.31,183.24 L328.02,183.48 L328.74,183.30 L329.45,183.11 L330.17,183.11 L330.88,182.90 L331.60,182.56 L332.31,182.46 L333.03,182.65 L333.74,182.88 L334.46,183.05 L335.17,183.07 L335.88,183.07 L336.60,183.20 L337.31,183.22 L338.03,182.97 L338.74,182.70 L339.46,182.64 L340.17,182.59 L340.89,182.21 L341.60,181.68 L342.32,181.44 L343.03,181.49 L343.75,181.65 L344.46,181.75 L345.18,181.51 L345.89,181.05 L346.61,180.82 L347.32,180.82 L348.04,180.68 L348.75,180.28 L349.46,179.78 L350.18,179.29 L350.89,178.73 L351.61,177.97 L352.32,177.20 L353.04,176.45 L353.75,175.49 L354.47,174.38 L355.18,173.28 L355.90,172.07 L356.61,170.61 L357.33,168.98 L358.04,167.19 L358.76,165.22 L359.47,162.95 L360.19,160.31 L360.90,157.20 L361.61,152.60 L362.33,146.95 L363.04,141.50 L363.76,136.07 L364.47,129.46 L365.19,120.97 L365.90,111.41 L366.62,100.44 L367.33,90.29 L368.05,81.34 L368.76,73.62 L369.48,65.79 L370.19,61.62 L370.91,64.61 L371.62,70.89 L372.34,77.22 L373.05,84.66 L373.77,92.35 L374.48,99.23 L375.19,105.84 L375.91,113.15 L376.62,122.50 L377.34,131.66 L378.05,138.46 L378.77,143.90 L379.48,147.82 L380.20,151.04 L380.91,154.28 L381.63,157.20 L382.34,159.01 L383.06,160.28 L383.77,161.27 L384.49,162.10 L385.20,162.74 L385.92,163.19 L386.63,163.66 L387.34,164.15 L388.06,164.64 L388.77,165.17 L389.49,165.64 L390.20,166.04 L390.92,166.50 L391.63,167.02 L392.35,167.63 L393.06,168.39 L393.78,169.25 L394.49,170.10 L395.21,170.99 L395.92,171.86 L396.64,172.73 L397.35,173.62 L398.07,174.47 L398.78,175.20 L399.50,175.79 L400.21,176.28 L400.92,176.75 L401.64,177.34 L402.35,177.89 L403.07,178.18 L403.78,178.42 L404.50,178.85 L405.21,179.40 L405.93,179.95 L406.64,180.44 L407.36,180.68 L408.07,180.61 L408.79,180.61 L409.50,180.77 L410.22,180.81 L410.93,180.73 L411.65,180.77 L412.36,180.95 L413.07,181.25 L413.79,181.56 L414.50,181.75 L415.22,181.86 L415.93,182.14 L416.65,182.46 L417.36,182.65 L418.08,182.93 L418.79,183.47 L419.51,183.90 L420.22,183.76 L420.94,183.30 L421.65,183.01 L422.37,183.25 L423.08,183.80 L423.80,184.08 L424.51,183.89 L425.22,183.33 L425.94,182.54 L426.65,181.82 L427.37,181.32 L428.08,180.83 L428.80,180.15 L429.51,179.34 L430.23,178.32 L430.94,176.99 L431.66,176.17 L432.37,176.28 L433.09,176.74 L433.80,177.18 L434.52,177.45 L435.23,177.58 L435.95,177.79 L436.66,177.99 L437.38,177.98 L438.09,177.93 L438.80,178.04 L439.52,178.21 L440.23,178.32 L440.95,178.31 L441.66,178.79 L442.38,179.43 L443.09,179.40 L443.81,179.17 L444.52,179.17 L445.24,179.46 L445.95,179.84 L446.67,180.21 L447.38,180.67 L448.10,181.27 L448.81,181.99 L449.53,182.52 L450.24,182.66 L450.95,182.85 L451.67,183.28 L452.38,183.55 L453.10,183.50 L453.81,183.37 L454.53,183.30 L455.24,183.01 L455.96,182.60 L456.67,182.46 L457.39,182.56 L458.10,182.81 L458.82,183.25 L459.53,183.59 L460.25,183.52 L460.96,183.35 L461.68,183.21 L462.39,182.96 L463.11,182.96 L463.82,183.32 L464.53,183.26 L465.25,182.80 L465.96,182.75 L466.68,183.12 L467.39,183.42 L468.11,183.64 L468.82,183.67 L469.54,183.63 L470.25,183.95 L470.97,184.26 L471.68,183.70 L472.40,182.75 L473.11,182.55 L473.83,182.83 L474.54,182.98 L475.26,183.05 L475.97,182.88 L476.68,182.69 L477.40,182.91 L478.11,183.12 L478.83,183.17 L479.54,183.21 L480.26,182.85 L480.97,182.42 L481.69,182.52 L482.40,182.72 L483.12,182.77 L483.83,182.84 L484.55,182.75 L485.26,182.66 L485.98,182.68 L486.69,182.48 L487.41,182.25 L488.12,182.54 L488.84,183.31 L489.55,183.75 L490.26,183.49 L490.98,183.14 L491.69,183.12 L492.41,183.11 L493.12,183.01 L493.84,182.68 L494.55,182.19 L495.27,181.93 L495.98,181.83 L496.70,181.42 L497.41,180.83 L498.13,180.35 L498.84,179.68 L499.56,178.62 L500.27,177.34 L500.99,175.68 L501.70,173.72 L502.41,171.39 L503.13,168.63 L503.84,165.95 L504.56,163.91 L505.27,163.18 L505.99,163.96 L506.70,165.75 L507.42,168.20 L508.13,170.96 L508.85,173.50 L509.56,175.73 L510.28,177.72 L510.99,179.24 L511.71,180.21 L512.42,180.35 L513.14,180.03 L513.85,179.94 L514.56,180.24 L515.28,180.90 L515.99,181.90 L516.71,182.49 L517.42,182.10 L518.14,181.63 L518.85,181.62 L519.57,181.64 L520.28,181.49 L521.00,181.13 L521.71,180.76 L522.43,180.80 L523.14,180.93 L523.86,180.69 L524.57,180.42 L525.29,180.40 L526.00,180.47 L526.72,180.47 L527.43,180.53 L528.14,180.80 L528.86,181.12 L529.57,181.37 L530.29,181.70 L531.00,181.97" fill="none" stroke="#2f5597" stroke-width="1.7" stroke-linejoin="round"/>
<path d="M55.00,183.70 L55.71,184.04 L56.43,184.03 L57.14,183.82 L57.86,183.76 L58.57,183.83 L59.29,183.69 L60.00,183.40 L60.72,183.30 L61.43,183.24 L62.15,183.10 L62.86,183.05 L63.58,183.23 L64.29,183.42 L65.01,183.42 L65.72,183.29 L66.44,183.26 L67.15,183.46 L67.86,183.67 L68.58,183.70 L69.29,183.49 L70.01,183.13 L70.72,183.02 L71.44,183.24 L72.15,183.41 L72.87,183.35 L73.58,183.31 L74.30,183.49 L75.01,183.63 L75.73,183.42 L76.44,183.22 L77.16,183.57 L77.87,184.04 L78.59,184.08 L79.30,183.91 L80.02,183.66 L80.73,183.23 L81.44,182.90 L82.16,182.89 L82.87,182.85 L83.59,182.80 L84.30,183.17 L85.02,183.62 L85.73,183.49 L86.45,182.92 L87.16,182.44 L87.88,182.33 L88.59,182.45 L89.31,182.71 L90.02,183.08 L90.74,183.39 L91.45,183.27 L92.17,182.91 L92.88,183.07 L93.59,183.61 L94.31,183.73 L95.02,183.40 L95.74,183.26 L96.45,183.30 L97.17,183.24 L97.88,183.13 L98.60,183.18 L99.31,183.30 L100.03,183.15 L100.74,182.98 L101.46,183.03 L102.17,183.16 L102.89,183.10 L103.60,182.91 L104.32,182.83 L105.03,182.97 L105.75,183.20 L106.46,183.50 L107.17,183.73 L107.89,183.57 L108.60,183.16 L109.32,182.85 L110.03,182.95 L110.75,183.28 L111.46,183.32 L112.18,183.00 L112.89,182.81 L113.61,183.03 L114.32,183.31 L115.04,183.35 L115.75,183.26 L116.47,183.37 L117.18,183.53 L117.90,183.50 L118.61,183.35 L119.32,183.01 L120.04,182.61 L120.75,182.63 L121.47,183.23 L122.18,183.76 L122.90,183.76 L123.61,183.40 L124.33,183.13 L125.04,183.10 L125.76,183.11 L126.47,183.02 L127.19,182.84 L127.90,182.72 L128.62,182.85 L129.33,183.28 L130.05,183.80 L130.76,184.07 L131.48,184.03 L132.19,183.83 L132.90,183.49 L133.62,183.15 L134.33,183.18 L135.05,183.46 L135.76,183.56 L136.48,183.48 L137.19,183.40 L137.91,183.29 L138.62,183.15 L139.34,183.05 L140.05,183.02 L140.77,183.08 L141.48,183.04 L142.20,182.87 L142.91,182.83 L143.63,182.97 L144.34,183.15 L145.05,183.36 L145.77,183.58 L146.48,183.63 L147.20,183.58 L147.91,183.55 L148.63,183.43 L149.34,183.18 L150.06,182.99 L150.77,182.94 L151.49,182.91 L152.20,183.00 L152.92,183.21 L153.63,183.10 L154.35,182.64 L155.06,182.41 L155.78,182.63 L156.49,182.87 L157.20,183.06 L157.92,183.42 L158.63,183.65 L159.35,183.43 L160.06,183.12 L160.78,183.18 L161.49,183.40 L162.21,183.48 L162.92,183.55 L163.64,183.77 L164.35,183.93 L165.07,183.90 L165.78,183.93 L166.50,183.99 L167.21,183.92 L167.93,183.76 L168.64,183.58 L169.36,183.45 L170.07,183.49 L170.78,183.65 L171.50,183.66 L172.21,183.41 L172.93,183.21 L173.64,183.25 L174.36,183.28 L175.07,183.20 L175.79,183.05 L176.50,182.92 L177.22,182.98 L177.93,183.12 L178.65,183.16 L179.36,183.32 L180.08,183.52 L180.79,183.41 L181.51,183.18 L182.22,183.17 L182.93,183.26 L183.65,183.37 L184.36,183.47 L185.08,183.60 L185.79,183.73 L186.51,183.83 L187.22,183.84 L187.94,183.67 L188.65,183.37 L189.37,183.27 L190.08,183.36 L190.80,183.34 L191.51,183.32 L192.23,183.45 L192.94,183.38 L193.66,183.02 L194.37,182.80 L195.09,183.01 L195.80,183.35 L196.51,183.50 L197.23,183.52 L197.94,183.53 L198.66,183.37 L199.37,183.15 L200.09,183.09 L200.80,182.94 L201.52,182.82 L202.23,183.03 L202.95,183.08 L203.66,182.53 L204.38,182.29 L205.09,182.72 L205.81,183.15 L206.52,183.24 L207.24,183.20 L207.95,182.90 L208.66,182.37 L209.38,182.21 L210.09,182.51 L210.81,182.74 L211.52,182.63 L212.24,182.62 L212.95,182.75 L213.67,182.84 L214.38,183.00 L215.10,183.18 L215.81,183.00 L216.53,182.71 L217.24,182.81 L217.96,182.97 L218.67,182.85 L219.39,182.67 L220.10,182.63 L220.82,182.66 L221.53,182.78 L222.24,182.85 L222.96,182.85 L223.67,182.82 L224.39,182.94 L225.10,183.37 L225.82,183.59 L226.53,183.20 L227.25,182.88 L227.96,183.03 L228.68,182.88 L229.39,182.39 L230.11,181.99 L230.82,181.53 L231.54,180.76 L232.25,180.09 L232.97,179.56 L233.68,179.03 L234.39,178.91 L235.11,179.03 L235.82,179.29 L236.54,179.93 L237.25,180.68 L237.97,181.20 L238.68,181.64 L239.40,182.15 L240.11,182.72 L240.83,182.94 L241.54,182.74 L242.26,182.81 L242.97,183.33 L243.69,183.70 L244.40,183.49 L245.12,183.04 L245.83,182.81 L246.54,182.96 L247.26,183.01 L247.97,182.83 L248.69,182.91 L249.40,183.23 L250.12,183.34 L250.83,183.18 L251.55,183.09 L252.26,183.06 L252.98,183.07 L253.69,183.21 L254.41,183.52 L255.12,183.69 L255.84,183.44 L256.55,183.15 L257.27,183.15 L257.98,183.44 L258.70,183.77 L259.41,183.63 L260.12,183.01 L260.84,182.66 L261.55,182.83 L262.27,183.00 L262.98,182.91 L263.70,182.73 L264.41,182.56 L265.13,182.53 L265.84,182.61 L266.56,182.66 L267.27,182.54 L267.99,182.39 L268.70,182.33 L269.42,182.30 L270.13,182.45 L270.85,182.84 L271.56,183.13 L272.27,183.19 L272.99,183.44 L273.70,183.84 L274.42,183.87 L275.13,183.57 L275.85,183.34 L276.56,183.16 L277.28,183.19 L277.99,183.51 L278.71,183.50 L279.42,183.11 L280.14,183.18 L280.85,183.56 L281.57,183.41 L282.28,182.87 L283.00,182.72 L283.71,182.98 L284.43,183.19 L285.14,183.08 L285.85,182.73 L286.57,182.49 L287.28,182.59 L288.00,182.85 L288.71,183.02 L289.43,183.19 L290.14,183.46 L290.86,183.59 L291.57,183.53 L292.29,183.39 L293.00,183.30 L293.72,183.28 L294.43,183.33 L295.15,183.37 L295.86,183.37 L296.58,183.25 L297.29,182.77 L298.00,182.43 L298.72,182.74 L299.43,183.24 L300.15,183.45 L300.86,183.50 L301.58,183.54 L302.29,183.52 L303.01,183.39 L303.72,183.29 L304.44,183.47 L305.15,183.56 L305.87,183.40 L306.58,183.35 L307.30,183.33 L308.01,183.22 L308.73,183.15 L309.44,183.19 L310.16,183.30 L310.87,183.37 L311.58,183.42 L312.30,183.56 L313.01,183.64 L313.73,183.45 L314.44,183.35 L315.16,183.51 L315.87,183.67 L316.59,183.45 L317.30,183.17 L318.02,183.15 L318.73,183.34 L319.45,183.54 L320.16,183.55 L320.88,183.39 L321.59,183.29 L322.31,183.57 L323.02,184.02 L323.73,184.06 L324.45,183.52 L325.16,183.18 L325.88,183.27 L326.59,183.36 L327.31,183.42 L328.02,183.69 L328.74,183.73 L329.45,183.22 L330.17,182.79 L330.88,182.96 L331.60,183.22 L332.31,182.93 L333.03,182.80 L333.74,183.29 L334.46,183.60 L335.17,183.48 L335.88,183.46 L336.60,183.46 L337.31,183.19 L338.03,183.03 L338.74,183.09 L339.46,183.15 L340.17,183.11 L340.89,182.96 L341.60,182.85 L342.32,182.96 L343.03,182.98 L343.75,182.47 L344.46,181.85 L345.18,181.71 L345.89,181.94 L346.61,181.85 L347.32,181.30 L348.04,180.92 L348.75,180.97 L349.46,180.93 L350.18,180.56 L350.89,180.19 L351.61,179.73 L352.32,178.90 L353.04,178.06 L353.75,177.68 L354.47,177.51 L355.18,176.99 L355.90,176.01 L356.61,175.00 L357.33,174.12 L358.04,173.20 L358.76,172.25 L359.47,171.52 L360.19,170.78 L360.90,169.52 L361.61,167.75 L362.33,165.78 L363.04,163.58 L363.76,161.38 L364.47,159.65 L365.19,158.11 L365.90,156.28 L366.62,154.47 L367.33,153.24 L368.05,152.35 L368.76,151.50 L369.48,150.60 L370.19,149.63 L370.91,149.14 L371.62,149.40 L372.34,150.19 L373.05,151.31 L373.77,152.65 L374.48,154.17 L375.19,155.85 L375.91,157.57 L376.62,159.42 L377.34,160.86 L378.05,161.81 L378.77,162.98 L379.48,164.23 L380.20,164.89 L380.91,165.09 L381.63,165.61 L382.34,166.21 L383.06,166.34 L383.77,166.31 L384.49,166.32 L385.20,166.24 L385.92,166.21 L386.63,166.13 L387.34,166.20 L388.06,166.64 L388.77,167.02 L389.49,167.14 L390.20,167.39 L390.92,167.84 L391.63,168.27 L392.35,168.73 L393.06,169.16 L393.78,169.70 L394.49,170.39 L395.21,170.87 L395.92,171.09 L396.64,171.54 L397.35,172.28 L398.07,172.78 L398.78,173.00 L399.50,173.32 L400.21,173.70 L400.92,174.08 L401.64,174.62 L402.35,175.23 L403.07,175.67 L403.78,175.98 L404.50,176.41 L405.21,176.96 L405.93,177.38 L406.64,177.60 L407.36,177.77 L408.07,178.10 L408.79,178.66 L409.50,179.10 L410.22,179.14 L410.93,179.14 L411.65,179.14 L412.36,179.02 L413.07,179.16 L413.79,179.71 L414.50,180.09 L415.22,180.14 L415.93,180.50 L416.65,181.14 L417.36,181.45 L418.08,181.20 L418.79,181.07 L419.51,181.34 L420.22,181.56 L420.94,181.53 L421.65,181.55 L422.37,181.73 L423.08,181.74 L423.80,181.61 L424.51,181.50 L425.22,181.53 L425.94,181.68 L426.65,181.90 L427.37,182.05 L428.08,182.06 L428.80,181.89 L429.51,181.70 L430.23,181.95 L430.94,182.37 L431.66,182.18 L432.37,181.52 L433.09,181.11 L433.80,181.06 L434.52,181.25 L435.23,181.64 L435.95,182.16 L436.66,182.61 L437.38,182.61 L438.09,182.30 L438.80,182.40 L439.52,182.85 L440.23,182.87 L440.95,182.32 L441.66,181.59 L442.38,181.04 L443.09,181.19 L443.81,182.10 L444.52,182.88 L445.24,182.71 L445.95,182.27 L446.67,182.40 L447.38,182.71 L448.10,182.67 L448.81,182.50 L449.53,182.40 L450.24,182.23 L450.95,182.09 L451.67,182.10 L452.38,182.04 L453.10,181.97 L453.81,182.34 L454.53,182.81 L455.24,182.63 L455.96,182.13 L456.67,182.01 L457.39,182.21 L458.10,182.37 L458.82,182.48 L459.53,182.58 L460.25,182.57 L460.96,182.49 L461.68,182.37 L462.39,182.21 L463.11,182.22 L463.82,182.47 L464.53,182.77 L465.25,182.95 L465.96,182.65 L466.68,182.07 L467.39,181.95 L468.11,182.36 L468.82,182.60 L469.54,182.65 L470.25,182.71 L470.97,182.77 L471.68,182.86 L472.40,182.97 L473.11,182.98 L473.83,183.07 L474.54,183.12 L475.26,182.82 L475.97,182.70 L476.68,182.99 L477.40,183.05 L478.11,182.81 L478.83,182.73 L479.54,182.81 L480.26,183.22 L480.97,183.77 L481.69,183.70 L482.40,183.09 L483.12,182.75 L483.83,182.91 L484.55,183.08 L485.26,183.03 L485.98,183.00 L486.69,183.05 L487.41,183.09 L488.12,183.04 L488.84,182.91 L489.55,182.92 L490.26,183.08 L490.98,183.20 L491.69,183.18 L492.41,182.97 L493.12,182.57 L493.84,182.30 L494.55,182.40 L495.27,182.61 L495.98,182.73 L496.70,182.81 L497.41,182.72 L498.13,182.28 L498.84,181.86 L499.56,181.82 L500.27,181.58 L500.99,180.83 L501.70,180.18 L502.41,180.13 L503.13,180.06 L503.84,179.45 L504.56,178.82 L505.27,178.60 L505.99,178.75 L506.70,179.05 L507.42,179.40 L508.13,179.93 L508.85,180.63 L509.56,181.34 L510.28,182.04 L510.99,182.61 L511.71,182.95 L512.42,183.15 L513.14,183.41 L513.85,183.50 L514.56,183.47 L515.28,183.28 L515.99,182.96 L516.71,182.78 L517.42,182.61 L518.14,182.57 L518.85,182.90 L519.57,183.33 L520.28,183.26 L521.00,182.62 L521.71,181.87 L522.43,181.42 L523.14,181.47 L523.86,181.52 L524.57,181.30 L525.29,181.14 L526.00,181.41 L526.72,181.69 L527.43,181.64 L528.14,181.54 L528.86,181.52 L529.57,181.43 L530.29,181.35 L531.00,181.34" fill="none" stroke="#ed7d31" stroke-width="1.8" stroke-linejoin="round"/>
<path d="M55.00,183.84 L55.71,183.92 L56.43,183.81 L57.14,183.86 L57.86,183.83 L58.57,183.75 L59.29,183.86 L60.00,183.87 L60.72,183.78 L61.43,183.78 L62.15,183.84 L62.86,183.91 L63.58,183.94 L64.29,184.04 L65.01,183.95 L65.72,183.66 L66.44,183.59 L67.15,183.73 L67.86,183.87 L68.58,183.88 L69.29,183.92 L70.01,183.96 L70.72,183.87 L71.44,183.87 L72.15,183.97 L72.87,183.94 L73.58,183.73 L74.30,183.63 L75.01,183.77 L75.73,183.92 L76.44,183.85 L77.16,183.71 L77.87,183.75 L78.59,183.78 L79.30,183.84 L80.02,183.84 L80.73,183.81 L81.44,183.94 L82.16,183.90 L82.87,183.90 L83.59,183.99 L84.30,183.83 L85.02,183.72 L85.73,183.82 L86.45,183.88 L87.16,183.73 L87.88,183.63 L88.59,183.61 L89.31,183.53 L90.02,183.55 L90.74,183.58 L91.45,183.63 L92.17,183.83 L92.88,183.88 L93.59,183.74 L94.31,183.62 L95.02,183.52 L95.74,183.57 L96.45,183.70 L97.17,183.79 L97.88,183.85 L98.60,183.89 L99.31,183.83 L100.03,183.75 L100.74,183.83 L101.46,183.87 L102.17,183.84 L102.89,183.87 L103.60,183.99 L104.32,184.06 L105.03,183.91 L105.75,183.80 L106.46,183.77 L107.17,183.86 L107.89,183.86 L108.60,183.61 L109.32,183.62 L110.03,183.87 L110.75,183.96 L111.46,183.80 L112.18,183.72 L112.89,183.79 L113.61,183.70 L114.32,183.63 L115.04,183.80 L115.75,183.83 L116.47,183.65 L117.18,183.67 L117.90,183.64 L118.61,183.50 L119.32,183.62 L120.04,183.77 L120.75,183.77 L121.47,183.79 L122.18,183.76 L122.90,183.78 L123.61,183.86 L124.33,183.82 L125.04,183.73 L125.76,183.67 L126.47,183.63 L127.19,183.63 L127.90,183.67 L128.62,183.72 L129.33,183.81 L130.05,183.77 L130.76,183.79 L131.48,183.93 L132.19,183.66 L132.90,183.49 L133.62,183.72 L134.33,183.82 L135.05,183.88 L135.76,183.75 L136.48,183.48 L137.19,183.56 L137.91,183.88 L138.62,184.09 L139.34,184.00 L140.05,183.81 L140.77,183.79 L141.48,183.80 L142.20,183.74 L142.91,183.70 L143.63,183.70 L144.34,183.84 L145.05,183.89 L145.77,183.88 L146.48,183.96 L147.20,183.85 L147.91,183.81 L148.63,183.89 L149.34,183.89 L150.06,183.87 L150.77,183.84 L151.49,183.90 L152.20,183.90 L152.92,183.80 L153.63,183.74 L154.35,183.68 L155.06,183.78 L155.78,183.87 L156.49,183.73 L157.20,183.72 L157.92,183.87 L158.63,183.80 L159.35,183.70 L160.06,183.88 L160.78,183.95 L161.49,183.90 L162.21,184.08 L162.92,184.27 L163.64,184.13 L164.35,183.81 L165.07,183.66 L165.78,183.66 L166.50,183.79 L167.21,183.88 L167.93,183.72 L168.64,183.66 L169.36,183.76 L170.07,183.75 L170.78,183.77 L171.50,183.78 L172.21,183.83 L172.93,183.87 L173.64,183.76 L174.36,183.82 L175.07,183.89 L175.79,183.84 L176.50,183.75 L177.22,183.72 L177.93,183.68 L178.65,183.61 L179.36,183.70 L180.08,184.00 L180.79,184.19 L181.51,184.02 L182.22,183.90 L182.93,183.97 L183.65,183.92 L184.36,183.71 L185.08,183.52 L185.79,183.44 L186.51,183.59 L187.22,183.80 L187.94,183.89 L188.65,183.90 L189.37,183.77 L190.08,183.75 L190.80,183.86 L191.51,183.86 L192.23,183.87 L192.94,183.81 L193.66,183.49 L194.37,183.29 L195.09,183.45 L195.80,183.61 L196.51,183.73 L197.23,183.70 L197.94,183.58 L198.66,183.68 L199.37,183.78 L200.09,183.75 L200.80,183.74 L201.52,183.73 L202.23,183.80 L202.95,183.92 L203.66,183.80 L204.38,183.70 L205.09,183.88 L205.81,183.86 L206.52,183.65 L207.24,183.60 L207.95,183.78 L208.66,183.99 L209.38,183.99 L210.09,184.03 L210.81,184.02 L211.52,183.76 L212.24,183.72 L212.95,183.97 L213.67,184.06 L214.38,183.94 L215.10,183.93 L215.81,183.83 L216.53,183.57 L217.24,183.61 L217.96,183.84 L218.67,183.74 L219.39,183.41 L220.10,183.42 L220.82,183.70 L221.53,183.71 L222.24,183.70 L222.96,183.90 L223.67,183.86 L224.39,183.71 L225.10,183.83 L225.82,183.98 L226.53,184.04 L227.25,183.93 L227.96,183.81 L228.68,183.94 L229.39,184.05 L230.11,183.85 L230.82,183.61 L231.54,183.71 L232.25,183.85 L232.97,183.79 L233.68,183.73 L234.39,183.87 L235.11,184.00 L235.82,183.89 L236.54,183.76 L237.25,183.80 L237.97,183.85 L238.68,183.79 L239.40,183.90 L240.11,183.96 L240.83,183.78 L241.54,183.76 L242.26,183.80 L242.97,183.74 L243.69,183.62 L244.40,183.54 L245.12,183.56 L245.83,183.75 L246.54,184.06 L247.26,184.10 L247.97,183.94 L248.69,183.88 L249.40,183.80 L250.12,183.84 L250.83,184.03 L251.55,184.09 L252.26,184.06 L252.98,184.00 L253.69,183.85 L254.41,183.66 L255.12,183.66 L255.84,183.88 L256.55,183.84 L257.27,183.60 L257.98,183.59 L258.70,183.87 L259.41,184.14 L260.12,184.06 L260.84,183.89 L261.55,183.75 L262.27,183.60 L262.98,183.66 L263.70,183.83 L264.41,183.99 L265.13,184.04 L265.84,183.99 L266.56,183.94 L267.27,183.85 L267.99,183.76 L268.70,183.70 L269.42,183.75 L270.13,183.90 L270.85,183.85 L271.56,183.67 L272.27,183.61 L272.99,183.72 L273.70,183.83 L274.42,183.86 L275.13,183.78 L275.85,183.77 L276.56,183.89 L277.28,183.90 L277.99,183.80 L278.71,183.81 L279.42,183.86 L280.14,183.79 L280.85,183.68 L281.57,183.51 L282.28,183.54 L283.00,183.81 L283.71,183.76 L284.43,183.51 L285.14,183.55 L285.85,183.73 L286.57,183.83 L287.28,183.80 L288.00,183.68 L288.71,183.73 L289.43,183.80 L290.14,183.69 L290.86,183.75 L291.57,183.84 L292.29,183.76 L293.00,183.72 L293.72,183.76 L294.43,183.81 L295.15,183.90 L295.86,183.96 L296.58,183.95 L297.29,183.96 L298.00,184.04 L298.72,184.11 L299.43,183.93 L300.15,183.69 L300.86,183.63 L301.58,183.70 L302.29,183.77 L303.01,183.58 L303.72,183.59 L304.44,183.90 L305.15,184.01 L305.87,183.93 L306.58,183.83 L307.30,183.94 L308.01,184.06 L308.73,183.90 L309.44,183.86 L310.16,183.89 L310.87,183.78 L311.58,183.72 L312.30,183.66 L313.01,183.69 L313.73,183.74 L314.44,183.64 L315.16,183.67 L315.87,183.92 L316.59,184.07 L317.30,183.94 L318.02,183.78 L318.73,183.69 L319.45,183.59 L320.16,183.66 L320.88,183.74 L321.59,183.80 L322.31,183.90 L323.02,183.92 L323.73,184.04 L324.45,184.24 L325.16,184.12 L325.88,183.85 L326.59,183.83 L327.31,183.94 L328.02,184.03 L328.74,183.92 L329.45,183.74 L330.17,183.78 L330.88,183.77 L331.60,183.66 L332.31,183.74 L333.03,183.79 L333.74,183.80 L334.46,183.92 L335.17,183.91 L335.88,183.96 L336.60,184.01 L337.31,183.93 L338.03,183.83 L338.74,183.77 L339.46,183.75 L340.17,183.68 L340.89,183.49 L341.60,183.38 L342.32,183.38 L343.03,183.38 L343.75,183.42 L344.46,183.32 L345.18,183.03 L345.89,182.79 L346.61,182.72 L347.32,182.58 L348.04,182.30 L348.75,182.31 L349.46,182.21 L350.18,182.04 L350.89,182.10 L351.61,182.11 L352.32,182.08 L353.04,182.01 L353.75,181.79 L354.47,181.46 L355.18,181.24 L355.90,181.11 L356.61,180.86 L357.33,180.75 L358.04,180.85 L358.76,180.88 L359.47,180.84 L360.19,180.69 L360.90,180.49 L361.61,180.48 L362.33,180.54 L363.04,180.45 L363.76,180.34 L364.47,180.29 L365.19,180.22 L365.90,180.06 L366.62,179.86 L367.33,179.89 L368.05,180.07 L368.76,179.95 L369.48,179.78 L370.19,179.72 L370.91,179.60 L371.62,179.49 L372.34,179.46 L373.05,179.43 L373.77,179.33 L374.48,179.32 L375.19,179.43 L375.91,179.40 L376.62,179.13 L377.34,178.81 L378.05,178.72 L378.77,178.73 L379.48,178.72 L380.20,178.76 L380.91,178.67 L381.63,178.51 L382.34,178.38 L383.06,178.25 L383.77,178.25 L384.49,178.31 L385.20,178.29 L385.92,178.24 L386.63,178.09 L387.34,177.82 L388.06,177.82 L388.77,178.09 L389.49,178.11 L390.20,178.08 L390.92,178.25 L391.63,178.33 L392.35,178.44 L393.06,178.52 L393.78,178.36 L394.49,178.33 L395.21,178.50 L395.92,178.66 L396.64,178.72 L397.35,178.81 L398.07,179.11 L398.78,179.41 L399.50,179.60 L400.21,179.73 L400.92,179.86 L401.64,180.02 L402.35,180.19 L403.07,180.24 L403.78,180.15 L404.50,180.14 L405.21,180.30 L405.93,180.47 L406.64,180.67 L407.36,180.81 L408.07,180.69 L408.79,180.65 L409.50,180.68 L410.22,180.71 L410.93,180.82 L411.65,180.89 L412.36,180.97 L413.07,181.05 L413.79,181.11 L414.50,181.06 L415.22,181.05 L415.93,181.28 L416.65,181.43 L417.36,181.39 L418.08,181.19 L418.79,181.09 L419.51,181.48 L420.22,181.81 L420.94,181.83 L421.65,181.84 L422.37,181.79 L423.08,181.78 L423.80,181.91 L424.51,182.07 L425.22,182.14 L425.94,182.09 L426.65,182.03 L427.37,181.92 L428.08,181.98 L428.80,182.23 L429.51,182.29 L430.23,182.18 L430.94,182.22 L431.66,182.39 L432.37,182.23 L433.09,182.02 L433.80,182.13 L434.52,182.23 L435.23,182.31 L435.95,182.35 L436.66,182.20 L437.38,182.17 L438.09,182.19 L438.80,182.13 L439.52,182.26 L440.23,182.44 L440.95,182.38 L441.66,182.33 L442.38,182.37 L443.09,182.45 L443.81,182.42 L444.52,182.28 L445.24,182.31 L445.95,182.42 L446.67,182.43 L447.38,182.40 L448.10,182.55 L448.81,182.77 L449.53,182.71 L450.24,182.50 L450.95,182.32 L451.67,182.34 L452.38,182.43 L453.10,182.35 L453.81,182.39 L454.53,182.53 L455.24,182.65 L455.96,182.61 L456.67,182.49 L457.39,182.57 L458.10,182.59 L458.82,182.41 L459.53,182.47 L460.25,182.75 L460.96,182.79 L461.68,182.58 L462.39,182.31 L463.11,182.28 L463.82,182.52 L464.53,182.59 L465.25,182.48 L465.96,182.51 L466.68,182.59 L467.39,182.63 L468.11,182.86 L468.82,183.12 L469.54,182.98 L470.25,182.67 L470.97,182.68 L471.68,182.98 L472.40,183.00 L473.11,182.95 L473.83,183.00 L474.54,182.69 L475.26,182.63 L475.97,182.86 L476.68,182.70 L477.40,182.48 L478.11,182.40 L478.83,182.46 L479.54,182.56 L480.26,182.49 L480.97,182.41 L481.69,182.45 L482.40,182.59 L483.12,182.65 L483.83,182.53 L484.55,182.34 L485.26,182.25 L485.98,182.36 L486.69,182.50 L487.41,182.46 L488.12,182.36 L488.84,182.39 L489.55,182.34 L490.26,182.04 L490.98,181.98 L491.69,182.24 L492.41,182.27 L493.12,182.12 L493.84,181.96 L494.55,181.78 L495.27,181.81 L495.98,181.95 L496.70,182.04 L497.41,181.92 L498.13,181.72 L498.84,181.76 L499.56,181.71 L500.27,181.49 L500.99,181.55 L501.70,181.79 L502.41,181.86 L503.13,181.74 L503.84,181.66 L504.56,181.77 L505.27,181.85 L505.99,181.78 L506.70,181.66 L507.42,181.65 L508.13,181.63 L508.85,181.67 L509.56,181.75 L510.28,181.65 L510.99,181.67 L511.71,181.80 L512.42,181.53 L513.14,181.30 L513.85,181.54 L514.56,181.78 L515.28,181.85 L515.99,181.82 L516.71,181.75 L517.42,181.70 L518.14,181.79 L518.85,181.84 L519.57,181.71 L520.28,181.78 L521.00,181.89 L521.71,181.87 L522.43,181.85 L523.14,181.77 L523.86,181.76 L524.57,181.76 L525.29,181.78 L526.00,181.81 L526.72,181.84 L527.43,181.84 L528.14,181.67 L528.86,181.65 L529.57,181.82 L530.29,181.83 L531.00,181.74" fill="none" stroke="#447f28" stroke-width="1.6" stroke-linejoin="round"/>
<line x1="89.3" y1="52.80" x2="114.9" y2="52.80" stroke="#7d8db6" stroke-width="1.6"/>
<text x="116.90" y="56.70" font-size="10.1" fill="#595959" stroke="#595959" stroke-width="0.25" font-style="italic">E. coli</text>
<line x1="89.3" y1="75.50" x2="114.9" y2="75.50" stroke="#ed7d31" stroke-width="1.6"/>
<text x="116.90" y="79.40" font-size="10.1" fill="#595959" stroke="#595959" stroke-width="0.25" font-style="italic">S. marcescens</text>
<line x1="89.3" y1="98.20" x2="114.9" y2="98.20" stroke="#548235" stroke-width="1.6"/>
<text x="116.90" y="102.10" font-size="10.1" fill="#595959" stroke="#595959" stroke-width="0.25" font-style="italic">S. aureus</text>
<text transform="translate(80.40 151.60) rotate(90)" font-size="10" fill="#595959" stroke="#595959" stroke-width="0.25">848</text>
<text transform="translate(203.00 138.00) rotate(90)" font-size="10" fill="#595959" stroke="#595959" stroke-width="0.25">1056</text>
<text transform="translate(275.90 142.70) rotate(90)" font-size="10" fill="#595959" stroke="#595959" stroke-width="0.25">1151</text>
<text transform="translate(393.90 127.30) rotate(90)" font-size="10" fill="#595959" stroke="#595959" stroke-width="0.25">1354</text>
<text transform="translate(426.80 129.50) rotate(90)" font-size="10" fill="#595959" stroke="#595959" stroke-width="0.25">1433</text>
<text x="222.20" y="151.90" font-size="10" fill="#595959" stroke="#595959" stroke-width="0.25">1099</text>
<text x="392.80" y="36.80" font-size="10" fill="#595959" stroke="#595959" stroke-width="0.25">1329</text>
<text x="493.60" y="151.90" font-size="10" fill="#595959" stroke="#595959" stroke-width="0.25">1554</text>
<path d="M207.2 164.3 V176" stroke="#9c9c9c" stroke-width="1.1" fill="none"/>
<path d="M271 153.5 H264.5 V174" stroke="#9c9c9c" stroke-width="1.1" fill="none"/>
<path d="M388.5 32.6 H382.5 L370.8 61.3" stroke="#9c9c9c" stroke-width="1.1" fill="none"/>
<path d="M397.4 154.2 L386.6 164.4" stroke="#9c9c9c" stroke-width="1.1" fill="none"/>
<path d="M431.5 156.7 V176.4" stroke="#9c9c9c" stroke-width="1.1" fill="none"/>
<text x="67.80" y="273.00" font-size="18" fill="#000" stroke="#000" stroke-width="0.25">B</text>
<line x1="124.4" y1="280.82" x2="124.4" y2="435.20" stroke="#858585" stroke-width="1.3"/>
<line x1="120.8" y1="435.20" x2="124.4" y2="435.20" stroke="#858585" stroke-width="1.2"/>
<text x="113.20" y="438.80" font-size="10" fill="#595959" stroke="#595959" stroke-width="0.25" text-anchor="end">0</text>
<line x1="120.8" y1="409.57" x2="124.4" y2="409.57" stroke="#858585" stroke-width="1.2"/>
<text x="113.20" y="413.17" font-size="10" fill="#595959" stroke="#595959" stroke-width="0.25" text-anchor="end">1000</text>
<line x1="120.8" y1="383.94" x2="124.4" y2="383.94" stroke="#858585" stroke-width="1.2"/>
<text x="113.20" y="387.54" font-size="10" fill="#595959" stroke="#595959" stroke-width="0.25" text-anchor="end">2000</text>
<line x1="120.8" y1="358.31" x2="124.4" y2="358.31" stroke="#858585" stroke-width="1.2"/>
<text x="113.20" y="361.91" font-size="10" fill="#595959" stroke="#595959" stroke-width="0.25" text-anchor="end">3000</text>
<line x1="120.8" y1="332.68" x2="124.4" y2="332.68" stroke="#858585" stroke-width="1.2"/>
<text x="113.20" y="336.28" font-size="10" fill="#595959" stroke="#595959" stroke-width="0.25" text-anchor="end">4000</text>
<line x1="120.8" y1="307.05" x2="124.4" y2="307.05" stroke="#858585" stroke-width="1.2"/>
<text x="113.20" y="310.65" font-size="10" fill="#595959" stroke="#595959" stroke-width="0.25" text-anchor="end">5000</text>
<line x1="120.8" y1="281.42" x2="124.4" y2="281.42" stroke="#858585" stroke-width="1.2"/>
<text x="113.20" y="285.02" font-size="10" fill="#595959" stroke="#595959" stroke-width="0.25" text-anchor="end">6000</text>
<line x1="123.8" y1="435.40" x2="472.2" y2="435.40" stroke="#858585" stroke-width="1.3"/>
<line x1="471.6" y1="280.82" x2="471.6" y2="435.20" stroke="#858585" stroke-width="1.3"/>
<line x1="471.6" y1="435.00" x2="475.5" y2="435.00" stroke="#858585" stroke-width="1.2"/>
<text x="482.80" y="439.30" font-size="10.3" fill="#781820" stroke="#781820" stroke-width="0.25">0</text>
<line x1="471.6" y1="406.85" x2="475.5" y2="406.85" stroke="#858585" stroke-width="1.2"/>
<text x="482.80" y="411.15" font-size="10.3" fill="#781820" stroke="#781820" stroke-width="0.25">2000</text>
<line x1="471.6" y1="378.70" x2="475.5" y2="378.70" stroke="#858585" stroke-width="1.2"/>
<text x="482.80" y="383.00" font-size="10.3" fill="#781820" stroke="#781820" stroke-width="0.25">4000</text>
<line x1="471.6" y1="350.55" x2="475.5" y2="350.55" stroke="#858585" stroke-width="1.2"/>
<text x="482.80" y="354.85" font-size="10.3" fill="#781820" stroke="#781820" stroke-width="0.25">6000</text>
<line x1="471.6" y1="322.40" x2="475.5" y2="322.40" stroke="#858585" stroke-width="1.2"/>
<text x="482.80" y="326.70" font-size="10.3" fill="#781820" stroke="#781820" stroke-width="0.25">8000</text>
<line x1="471.6" y1="294.25" x2="475.5" y2="294.25" stroke="#858585" stroke-width="1.2"/>
<text x="482.80" y="298.55" font-size="10.3" fill="#781820" stroke="#781820" stroke-width="0.25">10,000</text>
<rect x="163.9" y="307.40" width="36.20" height="127.80" fill="#4472c4"/>
<rect x="279.9" y="399.10" width="36.50" height="36.10" fill="#ed7d31"/>
<rect x="396.0" y="431.10" width="36.00" height="4.10" fill="#70ad47"/>
<path d="M179.50 286.50 H185.50 M182.50 286.50 V328.50 M179.50 328.50 H185.50" stroke="#4a4a4a" stroke-width="1.2" fill="none"/>
<path d="M295.30 389.40 H301.30 M298.30 389.40 V408.60 M295.30 408.60 H301.30" stroke="#4a4a4a" stroke-width="1.2" fill="none"/>
<path d="M411.00 430.30 H417.00 M414.00 430.30 V431.20 M411.00 431.20 H417.00" stroke="#4a4a4a" stroke-width="1.2" fill="none"/>
<text x="182.50" y="364.00" font-size="10.9" fill="#ffffff" stroke="#ffffff" stroke-width="0.25" text-anchor="middle">5000</text>
<text x="182.10" y="377.60" font-size="10.9" fill="#781820" stroke="#781820" stroke-width="0.25" text-anchor="middle">(9000)</text>
<text x="299.80" y="363.00" font-size="10.9" fill="#595959" stroke="#595959" stroke-width="0.25" text-anchor="middle">1400</text>
<text x="299.60" y="376.90" font-size="10.9" fill="#781820" stroke="#781820" stroke-width="0.25" text-anchor="middle">(2500)</text>
<text x="412.60" y="409.80" font-size="10.9" fill="#595959" stroke="#595959" stroke-width="0.25" text-anchor="middle">170</text>
<text x="412.60" y="423.50" font-size="10.9" fill="#781820" stroke="#781820" stroke-width="0.25" text-anchor="middle">(300)</text>
<text x="182.70" y="456.00" font-size="11" fill="#595959" stroke="#595959" stroke-width="0.25" text-anchor="middle" font-style="italic" textLength="30.00" lengthAdjust="spacingAndGlyphs">E. coli</text>
<text x="298.10" y="456.00" font-size="11" fill="#595959" stroke="#595959" stroke-width="0.25" text-anchor="middle" font-style="italic" textLength="72.80" lengthAdjust="spacingAndGlyphs">S. marcescens</text>
<text x="414.10" y="456.00" font-size="11" fill="#595959" stroke="#595959" stroke-width="0.25" text-anchor="middle" font-style="italic" textLength="47.70" lengthAdjust="spacingAndGlyphs">S. aureus</text>
<text transform="translate(76.00 408.00) rotate(-90)" font-size="12.6" fill="#595959" stroke="#595959" stroke-width="0.25" font-style="italic">I</text>
<text transform="translate(78.20 403.00) rotate(-90)" font-size="7.3" fill="#595959" stroke="#595959" stroke-width="0.25" textLength="15.40" lengthAdjust="spacingAndGlyphs">SERS</text>
<text transform="translate(76.00 386.40) rotate(-90)" font-size="11.0" fill="#595959" stroke="#595959" stroke-width="0.25" textLength="47.80" lengthAdjust="spacingAndGlyphs">(1329 cm</text>
<text transform="translate(72.00 338.70) rotate(-90)" font-size="7.3" fill="#595959" stroke="#595959" stroke-width="0.25">−1</text>
<text transform="translate(76.00 331.40) rotate(-90)" font-size="11.0" fill="#595959" stroke="#595959" stroke-width="0.25" textLength="32.80" lengthAdjust="spacingAndGlyphs">)[a.u.]</text>
<text transform="translate(525.3 408.5) rotate(-90)" font-size="11" fill="#781820" stroke="#781820" stroke-width="0.25" textLength="109.7" lengthAdjust="spacingAndGlyphs">SERS-tags/bacterium</text>
</svg></body></html>
